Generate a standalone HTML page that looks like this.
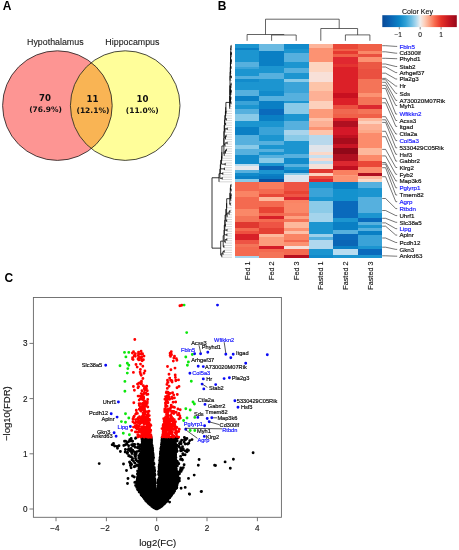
<!DOCTYPE html>
<html lang="en"><head><meta charset="utf-8"><title>Figure</title>
<style>html,body{margin:0;padding:0;background:#fff}svg{display:block}svg{font-family:'Liberation Sans', Arial, Helvetica, sans-serif}</style>
</head><body>
<svg width="459" height="550" viewBox="0 0 459 550">
<rect width="459" height="550" fill="#fff"/>
<g font-weight="700" font-size="12" fill="#000">
<text x="2.7" y="9.9">A</text><text x="217.7" y="9.9">B</text><text x="4.6" y="282">C</text>
</g>
<g id="venn">
<circle cx="57.4" cy="105.6" r="54.8" fill="#fd9593"/>
<circle cx="125.2" cy="105.6" r="54.8" fill="#fffe9a"/>
<clipPath id="cl"><circle cx="57.4" cy="105.6" r="54.8"/></clipPath>
<circle cx="125.2" cy="105.6" r="54.8" fill="#f9b454" clip-path="url(#cl)"/>
<circle cx="57.4" cy="105.6" r="54.8" fill="none" stroke="#1a1a1a" stroke-width="0.8"/>
<circle cx="125.2" cy="105.6" r="54.8" fill="none" stroke="#1a1a1a" stroke-width="0.8"/>
<g font-size="8.85" fill="#1a1a1a" stroke="#1a1a1a" stroke-width="0.1" text-anchor="middle">
<text x="55.3" y="44.8">Hypothalamus</text><text x="132.4" y="45">Hippocampus</text></g>
<g style="font-family:'DejaVu Sans', 'Liberation Sans', sans-serif" font-weight="700" fill="#111" text-anchor="middle">
<text x="44.9" y="101.3" font-size="8.6">70</text><text x="45.6" y="112.2" font-size="7.5">(76.9%)</text>
<text x="92.4" y="101.9" font-size="8.6">11</text><text x="92.9" y="113" font-size="7.5">(12.1%)</text>
<text x="142.5" y="101.9" font-size="8.6">10</text><text x="142.2" y="113" font-size="7.5">(11.0%)</text>
</g></g>
<g id="heat" shape-rendering="crispEdges">
<rect x="234.8" y="44.04" width="24.62" height="3.96" fill="#1c95d0"/>
<rect x="234.8" y="47.95" width="24.62" height="2.26" fill="#0a7fc4"/>
<rect x="234.8" y="50.16" width="24.62" height="2.43" fill="#1c95d0"/>
<rect x="234.8" y="52.54" width="24.62" height="9.91" fill="#1c95d0"/>
<rect x="234.8" y="62.39" width="24.62" height="4.30" fill="#56b0de"/>
<rect x="234.8" y="66.64" width="24.62" height="2.60" fill="#3aa3d8"/>
<rect x="234.8" y="69.19" width="24.62" height="6.85" fill="#1c95d0"/>
<rect x="234.8" y="75.98" width="24.62" height="2.60" fill="#56b0de"/>
<rect x="234.8" y="78.53" width="24.62" height="3.45" fill="#128bcb"/>
<rect x="234.8" y="81.93" width="24.62" height="8.55" fill="#1c95d0"/>
<rect x="234.8" y="90.43" width="24.62" height="6.00" fill="#56b0de"/>
<rect x="234.8" y="96.38" width="24.62" height="4.30" fill="#0a7fc4"/>
<rect x="234.8" y="100.62" width="24.62" height="4.30" fill="#3aa3d8"/>
<rect x="234.8" y="104.87" width="24.62" height="4.30" fill="#1c95d0"/>
<rect x="234.8" y="109.12" width="24.62" height="4.98" fill="#56b0de"/>
<rect x="259.4" y="44.04" width="24.62" height="6.51" fill="#6abae2"/>
<rect x="259.4" y="50.50" width="24.62" height="15.34" fill="#0a7fc4"/>
<rect x="259.4" y="65.79" width="24.62" height="6.85" fill="#1c95d0"/>
<rect x="259.4" y="72.59" width="24.62" height="6.00" fill="#56b0de"/>
<rect x="259.4" y="78.53" width="24.62" height="12.79" fill="#1c95d0"/>
<rect x="259.4" y="91.28" width="24.62" height="5.15" fill="#128bcb"/>
<rect x="259.4" y="96.38" width="24.62" height="5.15" fill="#56b0de"/>
<rect x="259.4" y="101.47" width="24.62" height="7.70" fill="#0a7fc4"/>
<rect x="259.4" y="109.12" width="24.62" height="4.98" fill="#0a6abc"/>
<rect x="283.9" y="44.04" width="24.62" height="4.81" fill="#128bcb"/>
<rect x="283.9" y="48.80" width="24.62" height="4.30" fill="#1c95d0"/>
<rect x="283.9" y="53.05" width="24.62" height="9.40" fill="#56b0de"/>
<rect x="283.9" y="62.39" width="24.62" height="6.00" fill="#1c95d0"/>
<rect x="283.9" y="68.34" width="24.62" height="4.30" fill="#56b0de"/>
<rect x="283.9" y="72.59" width="24.62" height="6.00" fill="#1c95d0"/>
<rect x="283.9" y="78.53" width="24.62" height="3.45" fill="#8acae8"/>
<rect x="283.9" y="81.93" width="24.62" height="11.10" fill="#3aa3d8"/>
<rect x="283.9" y="92.98" width="24.62" height="8.55" fill="#56b0de"/>
<rect x="283.9" y="101.47" width="24.62" height="1.75" fill="#1c95d0"/>
<rect x="283.9" y="103.17" width="24.62" height="10.93" fill="#8acae8"/>
<rect x="308.5" y="44.04" width="24.62" height="3.96" fill="#fdb49a"/>
<rect x="308.5" y="47.95" width="24.62" height="14.49" fill="#fc9272"/>
<rect x="308.5" y="62.39" width="24.62" height="9.40" fill="#fdd5c0"/>
<rect x="308.5" y="71.74" width="24.62" height="10.25" fill="#f8e0d8"/>
<rect x="308.5" y="81.93" width="24.62" height="9.40" fill="#fdc4a8"/>
<rect x="308.5" y="91.28" width="24.62" height="10.25" fill="#fdb095"/>
<rect x="308.5" y="101.47" width="24.62" height="7.70" fill="#fdd0bc"/>
<rect x="308.5" y="109.12" width="24.62" height="4.98" fill="#fc9a7a"/>
<rect x="333.1" y="44.04" width="24.62" height="4.81" fill="#ea4838"/>
<rect x="333.1" y="48.80" width="24.62" height="2.60" fill="#f06048"/>
<rect x="333.1" y="51.35" width="24.62" height="2.60" fill="#e63a30"/>
<rect x="333.1" y="53.89" width="24.62" height="3.45" fill="#f06048"/>
<rect x="333.1" y="57.29" width="24.62" height="6.85" fill="#e02830"/>
<rect x="333.1" y="64.09" width="24.62" height="2.60" fill="#e43430"/>
<rect x="333.1" y="66.64" width="24.62" height="26.39" fill="#dc2028"/>
<rect x="333.1" y="92.98" width="24.62" height="5.15" fill="#c81020"/>
<rect x="333.1" y="98.07" width="24.62" height="6.85" fill="#dc2028"/>
<rect x="333.1" y="104.87" width="24.62" height="4.30" fill="#ec5040"/>
<rect x="333.1" y="109.12" width="24.62" height="4.98" fill="#f06850"/>
<rect x="357.6" y="44.04" width="24.62" height="6.51" fill="#f06048"/>
<rect x="357.6" y="50.50" width="24.62" height="3.45" fill="#fa8868"/>
<rect x="357.6" y="53.89" width="24.62" height="3.45" fill="#ea5040"/>
<rect x="357.6" y="57.29" width="24.62" height="5.15" fill="#fc9272"/>
<rect x="357.6" y="62.39" width="24.62" height="6.85" fill="#ec5844"/>
<rect x="357.6" y="69.19" width="24.62" height="9.40" fill="#ea5040"/>
<rect x="357.6" y="78.53" width="24.62" height="14.49" fill="#f47458"/>
<rect x="357.6" y="92.98" width="24.62" height="4.30" fill="#fc9272"/>
<rect x="357.6" y="97.23" width="24.62" height="7.70" fill="#f47458"/>
<rect x="357.6" y="104.87" width="24.62" height="4.30" fill="#dc2830"/>
<rect x="357.6" y="109.12" width="24.62" height="4.98" fill="#f47458"/>
<rect x="234.8" y="113.91" width="24.62" height="7.19" fill="#8acae8"/>
<rect x="234.8" y="121.05" width="24.62" height="6.00" fill="#1c95d0"/>
<rect x="234.8" y="126.99" width="24.62" height="8.55" fill="#0a7fc4"/>
<rect x="234.8" y="135.49" width="24.62" height="9.40" fill="#56b0de"/>
<rect x="234.8" y="144.83" width="24.62" height="4.30" fill="#8acae8"/>
<rect x="234.8" y="149.08" width="24.62" height="6.00" fill="#56b0de"/>
<rect x="234.8" y="155.03" width="24.62" height="8.55" fill="#128bcb"/>
<rect x="234.8" y="163.53" width="24.62" height="2.60" fill="#b8dcef"/>
<rect x="234.8" y="166.07" width="24.62" height="3.79" fill="#e8e8ec"/>
<rect x="234.8" y="169.81" width="24.62" height="3.45" fill="#56b0de"/>
<rect x="234.8" y="173.21" width="24.62" height="5.66" fill="#128bcb"/>
<rect x="234.8" y="178.82" width="24.62" height="3.28" fill="#56b0de"/>
<rect x="259.4" y="113.91" width="24.62" height="1.24" fill="#0a6abc"/>
<rect x="259.4" y="115.10" width="24.62" height="6.00" fill="#0a7fc4"/>
<rect x="259.4" y="121.05" width="24.62" height="6.00" fill="#1c95d0"/>
<rect x="259.4" y="126.99" width="24.62" height="8.55" fill="#3aa3d8"/>
<rect x="259.4" y="135.49" width="24.62" height="6.00" fill="#1c95d0"/>
<rect x="259.4" y="141.44" width="24.62" height="3.45" fill="#56b0de"/>
<rect x="259.4" y="144.83" width="24.62" height="4.30" fill="#1c95d0"/>
<rect x="259.4" y="149.08" width="24.62" height="2.60" fill="#56b0de"/>
<rect x="259.4" y="151.63" width="24.62" height="3.45" fill="#1c95d0"/>
<rect x="259.4" y="155.03" width="24.62" height="2.60" fill="#56b0de"/>
<rect x="259.4" y="157.58" width="24.62" height="5.15" fill="#8acae8"/>
<rect x="259.4" y="162.68" width="24.62" height="3.45" fill="#1c95d0"/>
<rect x="259.4" y="166.07" width="24.62" height="3.79" fill="#0a62b4"/>
<rect x="259.4" y="169.81" width="24.62" height="3.96" fill="#1c95d0"/>
<rect x="259.4" y="173.72" width="24.62" height="5.15" fill="#0a7fc4"/>
<rect x="259.4" y="178.82" width="24.62" height="3.28" fill="#0a4fa0"/>
<rect x="283.9" y="113.91" width="24.62" height="0.39" fill="#8acae8"/>
<rect x="283.9" y="114.25" width="24.62" height="6.85" fill="#1c95d0"/>
<rect x="283.9" y="121.05" width="24.62" height="6.00" fill="#56b0de"/>
<rect x="283.9" y="126.99" width="24.62" height="2.60" fill="#56b0de"/>
<rect x="283.9" y="129.54" width="24.62" height="6.00" fill="#a8d4ec"/>
<rect x="283.9" y="135.49" width="24.62" height="6.00" fill="#8acae8"/>
<rect x="283.9" y="141.44" width="24.62" height="12.79" fill="#1c95d0"/>
<rect x="283.9" y="154.18" width="24.62" height="3.45" fill="#56b0de"/>
<rect x="283.9" y="157.58" width="24.62" height="6.00" fill="#128bcb"/>
<rect x="283.9" y="163.53" width="24.62" height="3.45" fill="#56b0de"/>
<rect x="283.9" y="166.92" width="24.62" height="2.94" fill="#1c95d0"/>
<rect x="283.9" y="169.81" width="24.62" height="3.45" fill="#0a7fc4"/>
<rect x="283.9" y="173.21" width="24.62" height="2.26" fill="#8acae8"/>
<rect x="283.9" y="175.42" width="24.62" height="6.68" fill="#e0e8f0"/>
<rect x="308.5" y="113.91" width="24.62" height="3.79" fill="#fc9a7a"/>
<rect x="308.5" y="117.65" width="24.62" height="3.45" fill="#fdc0a8"/>
<rect x="308.5" y="121.05" width="24.62" height="6.00" fill="#fdb095"/>
<rect x="308.5" y="126.99" width="24.62" height="2.60" fill="#fc9272"/>
<rect x="308.5" y="129.54" width="24.62" height="6.00" fill="#fdc4ac"/>
<rect x="308.5" y="135.49" width="24.62" height="9.40" fill="#b8d8ec"/>
<rect x="308.5" y="144.83" width="24.62" height="6.85" fill="#e0e4ea"/>
<rect x="308.5" y="151.63" width="24.62" height="3.45" fill="#fbd8c8"/>
<rect x="308.5" y="155.03" width="24.62" height="2.60" fill="#c8e0f0"/>
<rect x="308.5" y="157.58" width="24.62" height="3.45" fill="#fad8cc"/>
<rect x="308.5" y="160.98" width="24.62" height="2.60" fill="#c0dcf0"/>
<rect x="308.5" y="163.53" width="24.62" height="6.00" fill="#f4e0d8"/>
<rect x="308.5" y="169.47" width="24.62" height="3.45" fill="#e03830"/>
<rect x="308.5" y="172.87" width="24.62" height="3.11" fill="#fdd0bc"/>
<rect x="308.5" y="175.93" width="24.62" height="2.94" fill="#f06048"/>
<rect x="308.5" y="178.82" width="24.62" height="3.28" fill="#e02830"/>
<rect x="333.1" y="113.91" width="24.62" height="3.79" fill="#f06048"/>
<rect x="333.1" y="117.65" width="24.62" height="3.45" fill="#dc2028"/>
<rect x="333.1" y="121.05" width="24.62" height="6.00" fill="#b01020"/>
<rect x="333.1" y="126.99" width="24.62" height="8.55" fill="#d41828"/>
<rect x="333.1" y="135.49" width="24.62" height="2.60" fill="#c01020"/>
<rect x="333.1" y="138.04" width="24.62" height="6.00" fill="#a80c1c"/>
<rect x="333.1" y="143.98" width="24.62" height="4.30" fill="#c81424"/>
<rect x="333.1" y="148.23" width="24.62" height="6.00" fill="#900818"/>
<rect x="333.1" y="154.18" width="24.62" height="6.85" fill="#b01020"/>
<rect x="333.1" y="160.98" width="24.62" height="5.15" fill="#dc2830"/>
<rect x="333.1" y="166.07" width="24.62" height="3.79" fill="#c01020"/>
<rect x="333.1" y="169.81" width="24.62" height="5.66" fill="#fa8060"/>
<rect x="333.1" y="175.42" width="24.62" height="6.68" fill="#fc9a7a"/>
<rect x="357.6" y="113.91" width="24.62" height="3.79" fill="#f06048"/>
<rect x="357.6" y="117.65" width="24.62" height="3.45" fill="#fdb89c"/>
<rect x="357.6" y="121.05" width="24.62" height="2.60" fill="#fdd0bc"/>
<rect x="357.6" y="123.59" width="24.62" height="6.00" fill="#fdb095"/>
<rect x="357.6" y="129.54" width="24.62" height="3.45" fill="#fda888"/>
<rect x="357.6" y="132.94" width="24.62" height="15.34" fill="#fc8c6c"/>
<rect x="357.6" y="148.23" width="24.62" height="6.85" fill="#fdb89c"/>
<rect x="357.6" y="155.03" width="24.62" height="6.00" fill="#fc8a6a"/>
<rect x="357.6" y="160.98" width="24.62" height="6.00" fill="#ea4838"/>
<rect x="357.6" y="166.92" width="24.62" height="5.66" fill="#fc8c6c"/>
<rect x="357.6" y="172.53" width="24.62" height="3.79" fill="#b01020"/>
<rect x="357.6" y="176.27" width="24.62" height="2.60" fill="#fc9a7a"/>
<rect x="357.6" y="178.82" width="24.62" height="3.28" fill="#fdd8c4"/>
<rect x="234.8" y="176.00" width="24.62" height="3.11" fill="#0a7fc4"/>
<rect x="234.8" y="179.06" width="24.62" height="3.45" fill="#8acae8"/>
<rect x="234.8" y="182.46" width="24.62" height="8.89" fill="#f46a50"/>
<rect x="234.8" y="191.29" width="24.62" height="6.00" fill="#fa8464"/>
<rect x="234.8" y="197.24" width="24.62" height="11.94" fill="#f46a50"/>
<rect x="234.8" y="209.14" width="24.62" height="6.85" fill="#fa8868"/>
<rect x="234.8" y="215.93" width="24.62" height="6.00" fill="#f47458"/>
<rect x="234.8" y="221.88" width="24.62" height="6.00" fill="#e03830"/>
<rect x="234.8" y="227.83" width="24.62" height="3.45" fill="#f46a50"/>
<rect x="234.8" y="231.23" width="24.62" height="2.60" fill="#ee5040"/>
<rect x="234.8" y="233.77" width="24.62" height="6.51" fill="#d82028"/>
<rect x="234.8" y="240.23" width="24.62" height="3.79" fill="#ee5444"/>
<rect x="234.8" y="243.97" width="24.62" height="3.45" fill="#f47458"/>
<rect x="234.8" y="247.37" width="24.62" height="8.21" fill="#f46a50"/>
<rect x="234.8" y="255.52" width="24.62" height="2.94" fill="#a8d4ec"/>
<rect x="259.4" y="176.00" width="24.62" height="3.11" fill="#0a78c0"/>
<rect x="259.4" y="179.06" width="24.62" height="3.45" fill="#0a4fa0"/>
<rect x="259.4" y="182.46" width="24.62" height="6.34" fill="#fa7c5e"/>
<rect x="259.4" y="188.74" width="24.62" height="5.15" fill="#f46a50"/>
<rect x="259.4" y="193.84" width="24.62" height="3.45" fill="#e84838"/>
<rect x="259.4" y="197.24" width="24.62" height="3.45" fill="#fdb89c"/>
<rect x="259.4" y="200.64" width="24.62" height="6.00" fill="#f46a50"/>
<rect x="259.4" y="206.59" width="24.62" height="6.00" fill="#e84434"/>
<rect x="259.4" y="212.53" width="24.62" height="3.45" fill="#f46a50"/>
<rect x="259.4" y="215.93" width="24.62" height="2.94" fill="#d82028"/>
<rect x="259.4" y="218.82" width="24.62" height="3.11" fill="#f46a50"/>
<rect x="259.4" y="221.88" width="24.62" height="6.00" fill="#ee5444"/>
<rect x="259.4" y="227.83" width="24.62" height="6.00" fill="#e44034"/>
<rect x="259.4" y="233.77" width="24.62" height="3.45" fill="#fdb89c"/>
<rect x="259.4" y="237.17" width="24.62" height="8.55" fill="#fc9c7c"/>
<rect x="259.4" y="245.67" width="24.62" height="3.45" fill="#d41c28"/>
<rect x="259.4" y="249.07" width="24.62" height="3.45" fill="#f46a50"/>
<rect x="259.4" y="252.47" width="24.62" height="6.00" fill="#f47458"/>
<rect x="283.9" y="176.00" width="24.62" height="6.51" fill="#dce4ee"/>
<rect x="283.9" y="182.46" width="24.62" height="8.89" fill="#ee5444"/>
<rect x="283.9" y="191.29" width="24.62" height="2.60" fill="#e84434"/>
<rect x="283.9" y="193.84" width="24.62" height="3.45" fill="#ee5444"/>
<rect x="283.9" y="197.24" width="24.62" height="2.60" fill="#dc2830"/>
<rect x="283.9" y="199.79" width="24.62" height="3.45" fill="#fa8464"/>
<rect x="283.9" y="203.19" width="24.62" height="9.40" fill="#fa8868"/>
<rect x="283.9" y="212.53" width="24.62" height="3.45" fill="#f47458"/>
<rect x="283.9" y="215.93" width="24.62" height="3.45" fill="#fda080"/>
<rect x="283.9" y="219.33" width="24.62" height="2.60" fill="#f47458"/>
<rect x="283.9" y="221.88" width="24.62" height="6.00" fill="#fdb89c"/>
<rect x="283.9" y="227.83" width="24.62" height="3.45" fill="#fc9272"/>
<rect x="283.9" y="231.23" width="24.62" height="2.60" fill="#fdc0a8"/>
<rect x="283.9" y="233.77" width="24.62" height="6.00" fill="#fa8464"/>
<rect x="283.9" y="239.72" width="24.62" height="2.60" fill="#f46a50"/>
<rect x="283.9" y="242.27" width="24.62" height="3.45" fill="#fc9272"/>
<rect x="283.9" y="245.67" width="24.62" height="3.45" fill="#f8e0d8"/>
<rect x="283.9" y="249.07" width="24.62" height="6.00" fill="#f46a50"/>
<rect x="283.9" y="255.01" width="24.62" height="3.45" fill="#b81020"/>
<rect x="308.5" y="176.00" width="24.62" height="3.11" fill="#ec4c3c"/>
<rect x="308.5" y="179.06" width="24.62" height="3.45" fill="#dc2830"/>
<rect x="308.5" y="182.46" width="24.62" height="5.49" fill="#1c95d0"/>
<rect x="308.5" y="187.89" width="24.62" height="9.40" fill="#3aa3d8"/>
<rect x="308.5" y="197.24" width="24.62" height="3.45" fill="#1c95d0"/>
<rect x="308.5" y="200.64" width="24.62" height="11.94" fill="#8ccbe8"/>
<rect x="308.5" y="212.53" width="24.62" height="9.40" fill="#a4d4ec"/>
<rect x="308.5" y="221.88" width="24.62" height="11.94" fill="#1c95d0"/>
<rect x="308.5" y="233.77" width="24.62" height="3.45" fill="#9cd0ea"/>
<rect x="308.5" y="237.17" width="24.62" height="2.60" fill="#56b0de"/>
<rect x="308.5" y="239.72" width="24.62" height="9.40" fill="#b0d8ee"/>
<rect x="308.5" y="249.07" width="24.62" height="6.00" fill="#1c95d0"/>
<rect x="308.5" y="255.01" width="24.62" height="3.45" fill="#128bcb"/>
<rect x="333.1" y="176.00" width="24.62" height="6.51" fill="#fc9272"/>
<rect x="333.1" y="182.46" width="24.62" height="6.34" fill="#0a7fc4"/>
<rect x="333.1" y="188.74" width="24.62" height="11.94" fill="#1492ce"/>
<rect x="333.1" y="200.64" width="24.62" height="17.89" fill="#0a6abc"/>
<rect x="333.1" y="218.48" width="24.62" height="3.45" fill="#1c95d0"/>
<rect x="333.1" y="221.88" width="24.62" height="8.55" fill="#0a7fc4"/>
<rect x="333.1" y="230.38" width="24.62" height="3.45" fill="#56b0de"/>
<rect x="333.1" y="233.77" width="24.62" height="6.00" fill="#0a6abc"/>
<rect x="333.1" y="239.72" width="24.62" height="6.00" fill="#0a66b6"/>
<rect x="333.1" y="245.67" width="24.62" height="3.45" fill="#0a7fc4"/>
<rect x="333.1" y="249.07" width="24.62" height="6.00" fill="#b8dcf0"/>
<rect x="333.1" y="255.01" width="24.62" height="3.45" fill="#1c95d0"/>
<rect x="357.6" y="176.00" width="24.62" height="3.11" fill="#fdb89c"/>
<rect x="357.6" y="179.06" width="24.62" height="3.45" fill="#fdd8c4"/>
<rect x="357.6" y="182.46" width="24.62" height="5.49" fill="#56b0de"/>
<rect x="357.6" y="187.89" width="24.62" height="9.40" fill="#1c95d0"/>
<rect x="357.6" y="197.24" width="24.62" height="12.79" fill="#56b0de"/>
<rect x="357.6" y="209.98" width="24.62" height="2.60" fill="#56b0de"/>
<rect x="357.6" y="212.53" width="24.62" height="6.00" fill="#1c95d0"/>
<rect x="357.6" y="218.48" width="24.62" height="3.45" fill="#0a6abc"/>
<rect x="357.6" y="221.88" width="24.62" height="3.45" fill="#56b0de"/>
<rect x="357.6" y="225.28" width="24.62" height="2.60" fill="#1c95d0"/>
<rect x="357.6" y="227.83" width="24.62" height="3.45" fill="#56b0de"/>
<rect x="357.6" y="231.23" width="24.62" height="4.30" fill="#0a7fc4"/>
<rect x="357.6" y="235.47" width="24.62" height="10.25" fill="#3aa3d8"/>
<rect x="357.6" y="245.67" width="24.62" height="3.45" fill="#1c95d0"/>
<rect x="357.6" y="249.07" width="24.62" height="6.00" fill="#0a6abc"/>
<rect x="357.6" y="255.01" width="24.62" height="3.45" fill="#1c95d0"/>
</g>
<path d="M271.6 40.8 L271.6 35 L296.2 35 L296.2 40.8M247.1 40.8 L247.1 34.5 L283.9 34.5 L283.9 35M345.4 40.8 L345.4 34.9 L369.9 34.9 L369.9 40.8M320.8 40.8 L320.8 28.5 L357.6 28.5 L357.6 34.9M265.5 34.5 L265.5 19.2 L339.2 19.2 L339.2 28.5" fill="none" stroke="#222" stroke-width="0.7"/>
<path d="M232 45.18L231.1 45.18M232 47.53L231.1 47.53M232 49.89L230.9 49.89M232 52.25L231.4 52.25M232 54.60L231.4 54.60M232 56.96L231 56.96M232 59.31L231.4 59.31M232 61.67L231.4 61.67M232 64.03L231.2 64.03M232 66.38L231.1 66.38M232 68.74L231.1 68.74M232 71.09L230.6 71.09M232 73.45L230.6 73.45M232 75.81L231.4 75.81M232 78.16L231.4 78.16M232 80.52L230.1 80.52M232 82.87L231.1 82.87M232 85.23L231.1 85.23M232 87.59L230.9 87.59M232 89.94L231.2 89.94M232 92.30L231.2 92.30M232 94.65L230.9 94.65M232 97.01L230.9 97.01M232 99.37L230.9 99.37M232 101.72L231 101.72M232 104.08L231 104.08M232 106.44L229.8 106.44M232 108.79L229.7 108.79M232 111.15L226 111.15M232 113.50L226 113.50M232 115.86L225.7 115.86M232 118.22L226.3 118.22M232 120.57L226.3 120.57M232 122.93L225.6 122.93M232 125.28L225.6 125.28M232 127.64L227.2 127.64M232 130.00L227.2 130.00M232 132.35L224.9 132.35M232 134.71L226.1 134.71M232 137.06L226.1 137.06M232 139.42L225.5 139.42M232 141.78L227.1 141.78M232 144.13L227.1 144.13M232 146.49L225 146.49M232 148.84L226.4 148.84M232 151.20L226.4 151.20M232 153.56L225.5 153.56M232 155.91L224.2 155.91M232 158.27L221.9 158.27M232 160.62L221.8 160.62M232 162.98L225.2 162.98M232 165.34L225.2 165.34M232 167.69L224.4 167.69M232 170.05L224.4 170.05M232 172.40L222.8 172.40M232 174.76L222.8 174.76M232 177.12L222.2 177.12M232 179.47L222.2 179.47M232 181.83L219 181.83M232 184.18L231 184.18M232 186.54L231 186.54M232 188.90L231.1 188.90M232 191.25L231.1 191.25M232 193.61L231.1 193.61M232 195.96L231.1 195.96M232 198.32L230.9 198.32M232 200.68L230.7 200.68M232 203.03L230.2 203.03M232 205.39L230.2 205.39M232 207.75L226.7 207.75M232 210.10L229.9 210.10M232 212.46L229.9 212.46M232 214.81L229.1 214.81M232 217.17L227.1 217.17M232 219.53L226.7 219.53M232 221.88L226.7 221.88M232 224.24L225.4 224.24M232 226.59L225.4 226.59M232 228.95L227 228.95M232 231.31L227 231.31M232 233.66L226.9 233.66M232 236.02L226.9 236.02M232 238.37L226.8 238.37M232 240.73L226.8 240.73M232 243.09L225.2 243.09M232 245.44L223.9 245.44M232 247.80L223.9 247.80M232 250.15L224.2 250.15M232 252.51L224.2 252.51M232 254.87L223 254.87M232 257.22L221.8 257.22" fill="none" stroke="#888" stroke-width="0.35"/>
<path d="M231.1 45.18L231.1 47.53M231.1 46.36L230.9 46.36M230.9 46.36L230.9 49.89M231.4 52.25L231.4 54.60M231.4 53.42L231 53.42M231 53.42L231 56.96M230.9 48.12L230.8 48.12M231 55.19L230.8 55.19M230.8 48.12L230.8 55.19M231.4 59.31L231.4 61.67M231.4 60.49L231.2 60.49M231.2 60.49L231.2 64.03M230.8 51.66L230.7 51.66M231.2 62.26L230.7 62.26M230.7 51.66L230.7 62.26M231.1 66.38L231.1 68.74M230.7 56.96L230.5 56.96M231.1 67.56L230.5 67.56M230.5 56.96L230.5 67.56M230.6 71.09L230.6 73.45M230.5 62.26L230.4 62.26M230.6 72.27L230.4 72.27M230.4 62.26L230.4 72.27M231.4 75.81L231.4 78.16M230.4 67.27L230.3 67.27M231.4 76.98L230.3 76.98M230.3 67.27L230.3 76.98M230.3 72.13L230.1 72.13M230.1 72.13L230.1 80.52M231.1 82.87L231.1 85.23M231.1 84.05L230.9 84.05M230.9 84.05L230.9 87.59M231.2 89.94L231.2 92.30M231.2 91.12L230.9 91.12M230.9 91.12L230.9 94.65M230.9 85.82L230.6 85.82M230.9 92.89L230.6 92.89M230.6 85.82L230.6 92.89M230.9 97.01L230.9 99.37M231 101.72L231 104.08M230.9 98.19L230.5 98.19M231 102.90L230.5 102.90M230.5 98.19L230.5 102.90M230.6 89.35L230.3 89.35M230.5 100.55L230.3 100.55M230.3 89.35L230.3 100.55M230.1 76.32L230 76.32M230.3 94.95L230 94.95M230 76.32L230 94.95M230 85.64L229.8 85.64M229.8 85.64L229.8 106.44M229.8 96.04L229.7 96.04M229.7 96.04L229.7 108.79M226 111.15L226 113.50M229.7 102.41L225.9 102.41M226 112.33L225.9 112.33M225.9 102.41L225.9 112.33M225.9 107.37L225.7 107.37M225.7 107.37L225.7 115.86M226.3 118.22L226.3 120.57M225.7 111.61L225.4 111.61M226.3 119.39L225.4 119.39M225.4 111.61L225.4 119.39M225.6 122.93L225.6 125.28M225.4 115.50L224.8 115.50M225.6 124.11L224.8 124.11M224.8 115.50L224.8 124.11M227.2 127.64L227.2 130.00M227.2 128.82L224.9 128.82M224.9 128.82L224.9 132.35M224.8 119.80L224.6 119.80M224.9 130.58L224.6 130.58M224.6 119.80L224.6 130.58M226.1 134.71L226.1 137.06M226.1 135.89L225.5 135.89M225.5 135.89L225.5 139.42M224.6 125.19L224.2 125.19M225.5 137.65L224.2 137.65M224.2 125.19L224.2 137.65M227.1 141.78L227.1 144.13M227.1 142.95L225 142.95M225 142.95L225 146.49M224.2 131.42L223.9 131.42M225 144.72L223.9 144.72M223.9 131.42L223.9 144.72M226.4 148.84L226.4 151.20M226.4 150.02L225.5 150.02M225.5 150.02L225.5 153.56M225.5 151.79L224.2 151.79M224.2 151.79L224.2 155.91M223.9 138.07L223.9 138.07M224.2 153.85L223.9 153.85M223.9 138.07L223.9 153.85M223.9 145.96L221.9 145.96M221.9 145.96L221.9 158.27M221.9 152.11L221.8 152.11M221.8 152.11L221.8 160.62M225.2 162.98L225.2 165.34M221.8 156.37L221.5 156.37M225.2 164.16L221.5 164.16M221.5 156.37L221.5 164.16M224.4 167.69L224.4 170.05M221.5 160.26L220.6 160.26M224.4 168.87L220.6 168.87M220.6 160.26L220.6 168.87M222.8 172.40L222.8 174.76M220.6 164.57L220.3 164.57M222.8 173.58L220.3 173.58M220.3 164.57L220.3 173.58M222.2 177.12L222.2 179.47M220.3 169.07L219.9 169.07M222.2 178.29L219.9 178.29M219.9 169.07L219.9 178.29M219.9 173.68L219 173.68M219 173.68L219 181.83M231 184.18L231 186.54M231.1 188.90L231.1 191.25M231 185.36L230.6 185.36M231.1 190.07L230.6 190.07M230.6 185.36L230.6 190.07M231.1 193.61L231.1 195.96M231.1 194.79L230.9 194.79M230.9 194.79L230.9 198.32M230.9 196.55L230.7 196.55M230.7 196.55L230.7 200.68M230.6 187.72L230.3 187.72M230.7 198.62L230.3 198.62M230.3 187.72L230.3 198.62M230.2 203.03L230.2 205.39M230.3 193.17L229.8 193.17M230.2 204.21L229.8 204.21M229.8 193.17L229.8 204.21M229.8 198.69L226.7 198.69M226.7 198.69L226.7 207.75M229.9 210.10L229.9 212.46M229.9 211.28L229.1 211.28M229.1 211.28L229.1 214.81M229.1 213.05L227.1 213.05M227.1 213.05L227.1 217.17M226.7 203.22L226.6 203.22M227.1 215.11L226.6 215.11M226.6 203.22L226.6 215.11M226.7 219.53L226.7 221.88M226.6 209.16L225.8 209.16M226.7 220.70L225.8 220.70M225.8 209.16L225.8 220.70M225.4 224.24L225.4 226.59M225.8 214.93L225.1 214.93M225.4 225.42L225.1 225.42M225.1 214.93L225.1 225.42M227 228.95L227 231.31M225.1 220.17L224.8 220.17M227 230.13L224.8 230.13M224.8 220.17L224.8 230.13M226.9 233.66L226.9 236.02M224.8 225.15L224.3 225.15M226.9 234.84L224.3 234.84M224.3 225.15L224.3 234.84M226.8 238.37L226.8 240.73M226.8 239.55L225.2 239.55M225.2 239.55L225.2 243.09M224.3 230.00L224.1 230.00M225.2 241.32L224.1 241.32M224.1 230.00L224.1 241.32M223.9 245.44L223.9 247.80M224.1 235.66L223.2 235.66M223.9 246.62L223.2 246.62M223.2 235.66L223.2 246.62M224.2 250.15L224.2 252.51M224.2 251.33L223 251.33M223 251.33L223 254.87M223 253.10L221.8 253.10M221.8 253.10L221.8 257.22M223.2 241.14L220.7 241.14M221.8 255.16L220.7 255.16M220.7 241.14L220.7 255.16M219 177.76L212 177.76M220.7 248.15L212 248.15M212 177.76L212 248.15" fill="none" stroke="#000" stroke-width="0.8"/>
<path d="M382.2 45.7 L385.6 45.7 L395.8 46.4 L397.2 46.4M382.2 51.8 L385.6 51.8 L395.8 53.2 L397.2 53.2M382.2 58.3 L385.6 58.3 L395.8 58.7 L397.2 58.7M382.2 64 L385.6 64 L395.8 66.5 L397.2 66.5M382.2 67 L385.6 67 L395.8 72.6 L397.2 72.6M382.2 73.2 L385.6 73.2 L395.8 79 L397.2 79M382.2 78.4 L385.6 78.4 L395.8 86.1 L397.2 86.1M382.2 79.7 L385.6 79.7 L395.8 93.4 L397.2 93.4M382.2 82.3 L385.6 82.3 L395.8 100.4 L397.2 100.4M382.2 85.4 L385.6 85.4 L395.8 105.5 L397.2 105.5M382.2 88.4 L385.6 88.4 L395.8 114.1 L397.2 114.1M382.2 98.4 L385.6 98.4 L395.8 120.5 L397.2 120.5M382.2 102.8 L385.6 102.8 L395.8 126.4 L397.2 126.4M382.2 116.7 L385.6 116.7 L395.8 134 L397.2 134M382.2 119.8 L385.6 119.8 L395.8 140.6 L397.2 140.6M382.2 122.4 L385.6 122.4 L395.8 147.8 L397.2 147.8M382.2 131.3 L385.6 131.3 L395.8 154.3 L397.2 154.3M382.2 136.7 L385.6 136.7 L395.8 161.1 L397.2 161.1M382.2 149.4 L385.6 149.4 L395.8 167.5 L397.2 167.5M382.2 155.9 L385.6 155.9 L395.8 174.3 L397.2 174.3M382.2 162.5 L385.6 162.5 L395.8 180.9 L397.2 180.9M382.2 164.2 L385.6 164.2 L395.8 187.8 L397.2 187.8M382.2 167.7 L385.6 167.7 L395.8 195 L397.2 195M382.2 176.7 L385.6 176.7 L395.8 201.7 L397.2 201.7M382.2 198.5 L385.6 198.5 L395.8 208.6 L397.2 208.6M382.2 210.5 L385.6 210.5 L395.8 215.6 L397.2 215.6M382.2 218.3 L385.6 218.3 L395.8 222.3 L397.2 222.3M382.2 222.9 L385.6 222.9 L395.8 228.7 L397.2 228.7M382.2 226.2 L385.6 226.2 L395.8 235.1 L397.2 235.1M382.2 238 L385.6 238 L395.8 242.5 L397.2 242.5M382.2 247.2 L385.6 247.2 L395.8 249.4 L397.2 249.4M382.2 255.8 L385.6 255.8 L395.8 256.2 L397.2 256.2" fill="none" stroke="#1a1a1a" stroke-width="0.6"/>
<g font-size="6.2" stroke-width="0.18">
<text x="399.4" y="48.6" fill="#1a1aff" stroke="#1a1aff">Fbln5</text>
<text x="399.4" y="55.4" fill="#111" stroke="#111">Cd300lf</text>
<text x="399.4" y="60.9" fill="#111" stroke="#111">Phyhd1</text>
<text x="399.4" y="68.7" fill="#111" stroke="#111">Stab2</text>
<text x="399.4" y="74.8" fill="#111" stroke="#111">Arhgef37</text>
<text x="399.4" y="81.2" fill="#111" stroke="#111">Pla2g3</text>
<text x="399.4" y="88.3" fill="#111" stroke="#111">Hr</text>
<text x="399.4" y="95.6" fill="#111" stroke="#111">Sds</text>
<text x="399.4" y="102.6" fill="#111" stroke="#111">A730020M07Rik</text>
<text x="399.4" y="107.7" fill="#111" stroke="#111">Myh1</text>
<text x="399.4" y="116.3" fill="#1a1aff" stroke="#1a1aff">Wfikkn2</text>
<text x="399.4" y="122.7" fill="#111" stroke="#111">Acss3</text>
<text x="399.4" y="128.6" fill="#111" stroke="#111">Itgad</text>
<text x="399.4" y="136.2" fill="#111" stroke="#111">Ctla2a</text>
<text x="399.4" y="142.8" fill="#1a1aff" stroke="#1a1aff">Col5a3</text>
<text x="399.4" y="150" fill="#111" stroke="#111">5330429C05Rik</text>
<text x="399.4" y="156.5" fill="#111" stroke="#111">Hsf3</text>
<text x="399.4" y="163.3" fill="#111" stroke="#111">Gabbr2</text>
<text x="399.4" y="169.7" fill="#111" stroke="#111">Klrg2</text>
<text x="399.4" y="176.5" fill="#111" stroke="#111">Fyb2</text>
<text x="399.4" y="183.1" fill="#111" stroke="#111">Map3k6</text>
<text x="399.4" y="190" fill="#1a1aff" stroke="#1a1aff">Pglyrp1</text>
<text x="399.4" y="197.2" fill="#111" stroke="#111">Tmem82</text>
<text x="399.4" y="203.9" fill="#1a1aff" stroke="#1a1aff">Agrp</text>
<text x="399.4" y="210.8" fill="#1a1aff" stroke="#1a1aff">Rtbdn</text>
<text x="399.4" y="217.8" fill="#111" stroke="#111">Uhrf1</text>
<text x="399.4" y="224.5" fill="#111" stroke="#111">Slc38a5</text>
<text x="399.4" y="230.9" fill="#1a1aff" stroke="#1a1aff">Lipg</text>
<text x="399.4" y="237.3" fill="#111" stroke="#111">Aplnr</text>
<text x="399.4" y="244.7" fill="#111" stroke="#111">Pcdh12</text>
<text x="399.4" y="251.6" fill="#111" stroke="#111">Gkn3</text>
<text x="399.4" y="258.4" fill="#111" stroke="#111">Ankrd63</text>
</g>
<g font-size="7.3" fill="#111" stroke="#111" stroke-width="0.12" text-anchor="end">
<text transform="translate(249.7 261.4) rotate(-90)">Fed 1</text>
<text transform="translate(274.2 261.4) rotate(-90)">Fed 2</text>
<text transform="translate(298.8 261.4) rotate(-90)">Fed 3</text>
<text transform="translate(323.4 261.4) rotate(-90)">Fasted 1</text>
<text transform="translate(348 261.4) rotate(-90)">Fasted 2</text>
<text transform="translate(372.5 261.4) rotate(-90)">Fasted 3</text>
</g>
<defs><linearGradient id="ck" x1="0" x2="1" y1="0" y2="0">
<stop offset="0.004" stop-color="#084a98"/>
<stop offset="0.116" stop-color="#0a64b4"/>
<stop offset="0.228" stop-color="#0a84c6"/>
<stop offset="0.312" stop-color="#2ea0d6"/>
<stop offset="0.397" stop-color="#72c0e4"/>
<stop offset="0.453" stop-color="#acd8ee"/>
<stop offset="0.509" stop-color="#f0efee"/>
<stop offset="0.565" stop-color="#fdd0bc"/>
<stop offset="0.621" stop-color="#fcaa8c"/>
<stop offset="0.705" stop-color="#f8694c"/>
<stop offset="0.789" stop-color="#e63228"/>
<stop offset="0.901" stop-color="#c01420"/>
<stop offset="1.000" stop-color="#96081a"/>
</linearGradient></defs>
<rect x="382.3" y="15.2" width="74.5" height="11.9" fill="url(#ck)"/>
<path d="M399.3 27.1v2.3M420.2 27.1v2.3M441.1 27.1v2.3" stroke="#333" stroke-width="0.6"/>
<g fill="#111" stroke="#111" stroke-width="0.12" text-anchor="middle"><text x="417.5" y="13.6" font-size="7.1">Color Key</text>
<g font-size="6.6"><text x="398.2" y="37.2">−1</text><text x="420.2" y="37.2">0</text><text x="441" y="37.2">1</text></g></g>
<g id="volcano">
<rect x="33.4" y="297.5" width="248" height="219.8" fill="none" stroke="#666" stroke-width="0.9"/>
<path d="M56 517.3v3.9M106.4 517.3v3.9M156.7 517.3v3.9M207 517.3v3.9M257.4 517.3v3.9M33.4 509h-3.9M33.4 453.8h-3.9M33.4 398.6h-3.9M33.4 343.4h-3.9" stroke="#666" stroke-width="0.9" fill="none"/>
<g font-size="8.2" fill="#111" stroke="#111" stroke-width="0.12" text-anchor="middle">
<text x="54.8" y="531.3">−4</text>
<text x="105.2" y="531.3">−2</text>
<text x="156.7" y="531.3">0</text>
<text x="207" y="531.3">2</text>
<text x="257.4" y="531.3">4</text>
<text x="25.3" y="511.9">0</text>
<text x="25.3" y="456.7">1</text>
<text x="25.3" y="401.5">2</text>
<text x="25.3" y="346.3">3</text>
</g>
<g font-size="9.5" fill="#111" stroke="#111" stroke-width="0.12" text-anchor="middle"><text x="157.7" y="545.7">log2(FC)</text>
<text transform="translate(10.2 413.6) rotate(-90)">−log10(FDR)</text></g>
<path d="M150 470h0M139.9 472.9h0M157.2 501h0M166.7 478h0M170.8 462.8h0M168.8 467.1h0M161.8 491.2h0M162.2 459.6h0M149.7 470.4h0M171.8 493.9h0M143.7 439h0M162.1 448.5h0M148.8 462.5h0M164.3 493.7h0M165.8 490.5h0M149.4 447.4h0M161.5 489.8h0M155.4 495.4h0M171.4 474.9h0M144.5 455.7h0M149 482.9h0M166.7 468.4h0M162.4 505.6h0M145.9 493.3h0M169.5 457.4h0M158 505.2h0M158.3 499h0M175.7 469.8h0M144 460.4h0M141.4 490.9h0M173.5 457.2h0M141.6 455.8h0M168.7 463.9h0M167.4 495.8h0M142.7 452.9h0M167.5 470.5h0M147.3 442.5h0M161.6 476.9h0M152.3 504.7h0M157.3 499.7h0M146.6 494.8h0M170.4 475.2h0M162.7 440.4h0M162 505.9h0M151.9 470.7h0M140.5 491.1h0M174.3 485.3h0M152.6 488.9h0M143.8 459.5h0M152.8 483.9h0M174.5 487.2h0M146.8 498.9h0M164.6 439.3h0M140.2 492.6h0M164.4 459.2h0M151.7 449.4h0M143.3 494.4h0M166 487.2h0M173.7 470.8h0M150.9 471.1h0M148.6 439.8h0M144 441h0M159.9 506.8h0M152.6 487.9h0M144.4 438.8h0M157.1 504.7h0M162.1 445.7h0M156.2 504.5h0M163.7 496.7h0M148.6 467.6h0M163.9 465h0M163.9 451.9h0M156.7 492.4h0M157.1 507.9h0M145.8 460.6h0M160.4 459.5h0M169.3 478.1h0M165.8 500.3h0M173.8 490.8h0M170.2 490h0M153.9 468.8h0M162.8 479.7h0M164.6 458.7h0M147.3 438.1h0M147.4 456.5h0M173.2 447.7h0M154 507h0M147 477.6h0M168.2 453.3h0M150.1 446.6h0M150.6 491.7h0M154.5 506h0M168 456.5h0M175 479.7h0M141.2 461.4h0M141.5 491.9h0M152.9 473.2h0M168.6 454.6h0M163.2 500.9h0M141.5 474.3h0M170.4 438.5h0M146 468.1h0M147.4 469.5h0M153.3 471.1h0M160.8 478.6h0M147.7 494.3h0M174.2 450.1h0M145.2 481.3h0M175.3 464.6h0M168.7 454h0M166.1 437.5h0M172 456.1h0M145.8 468.3h0M169.6 441.7h0M154.7 506.4h0M150.3 438.5h0M157.5 507.1h0M146.5 457.2h0M165.6 476.3h0M146.6 437.3h0M150.4 495.8h0M164.8 465h0M158.4 485h0M169.6 462h0M149.9 465h0M148.4 488.8h0M156.5 499h0M166.7 445.5h0M171.6 438.8h0M142.2 480.1h0M165.1 475.1h0M168.3 474.4h0M164.9 494.8h0M143.6 461h0M174.5 479.2h0M136.7 483.7h0M149 442.7h0M146.3 464.8h0M159.5 485.2h0M170.1 488.9h0M162.1 440.2h0M168.1 456.1h0M160.7 505.7h0M139.7 466h0M147 483.9h0M176.3 473.3h0M171.2 464.7h0M146.7 439.7h0M147.8 442.2h0M153.4 482.4h0M161.4 452.9h0M162.2 450.1h0M154.4 497.4h0M152.1 453h0M146.4 478.4h0M170.2 447h0M143.5 494.5h0M165 468.9h0M167.9 466.8h0M163.8 488.6h0M164.2 449.3h0M162.2 498.1h0M147.2 448.6h0M145.7 479.4h0M153.4 470.1h0M168.7 449h0M148.7 442.6h0M145.4 457.2h0M156.6 506h0M151.7 460.7h0M151.9 471.6h0M159.5 492.2h0M164.3 501.5h0M144.7 459.6h0M169 452.2h0M157.8 508.5h0M163.5 475.7h0M137.4 481.4h0M143.6 455.6h0M170.9 489.4h0M147.1 458.4h0M154.1 499.7h0M175.1 438.7h0M155.2 482.7h0M171.2 477.7h0M171.3 461.8h0M169.5 438.8h0M150.2 460.9h0M173.4 446.4h0M173.6 475.8h0M152.4 504.4h0M148.2 446.2h0M156.7 500.3h0M162.4 462.5h0M168.6 492.3h0M153.5 477.7h0M171.9 485.5h0M156.4 508.8h0M163.1 473.3h0M161.2 492.8h0M143.8 439.2h0M175.2 458.1h0M171.8 474.8h0M143.4 491.2h0M171 489h0M150.9 461.4h0M146.8 486.5h0M148.9 457.8h0M153.6 502.9h0M161.4 468.9h0M153.1 479.2h0M144.9 453.7h0M161.6 455.5h0M165.8 486.1h0M173.7 454.6h0M170.2 477.1h0M167.8 478.2h0M148.9 437.9h0M167.2 442.5h0M155.3 483h0M151.8 462.8h0M142.9 463.3h0M154.2 504.4h0M151.7 448h0M147.6 455.8h0M159.9 463.6h0M165.3 443.6h0M152.4 506.5h0M149.3 476.4h0M163.6 482.1h0M160 469.2h0M166.1 459.8h0M166 496.5h0M154.9 479.3h0M163.2 450h0M176.4 484.3h0M140.6 468h0M151.8 485.4h0M144.7 483.5h0M162.7 503.9h0M150.7 459h0M151.3 453h0M143.9 498h0M171.5 467.4h0M150.4 495.3h0M155.4 507.9h0M149.1 443.7h0M170.4 463.1h0M151.9 466.3h0M143.6 458.3h0M152.7 506.8h0M175.2 467.4h0M169.9 469.6h0M169.2 447.5h0M153.6 464h0M143.8 473.1h0M145.7 447.3h0M173.9 465.7h0M173.5 472.5h0M153.1 459.9h0M173.1 458.7h0M158 498.7h0M157.1 508.8h0M175.6 479.5h0M149.5 457.2h0M155.5 496h0M144.4 452.9h0M164.1 468.2h0M159.9 505.2h0M139.2 492h0M139.4 489h0M173.8 467.6h0M142.3 471.6h0M150.7 489.1h0M172.9 462.6h0M152.2 484.8h0M141.9 458.1h0M149.9 472.2h0M147 447.7h0M145.4 473.5h0M163.2 503.3h0M147.6 471.8h0M156.1 508.5h0M160.8 476.3h0M151.5 439.9h0M161.8 506.1h0M149.1 475h0M143.8 474h0M169.7 487.8h0M162.3 480.9h0M162.9 456.1h0M137.5 489.2h0M166.6 475.1h0M143 445.8h0M143.1 446h0M172.7 472.7h0M149.3 437.8h0M143.1 442.5h0M150.6 461.8h0M138.9 468.2h0M145.5 451.7h0M174.9 481.5h0M164.7 467.5h0M165.7 497.5h0M173.2 489.2h0M153.2 503.3h0M145 449.8h0M154.4 506.3h0M142.9 487.5h0M162.1 481.7h0M143.9 498h0M151.5 503h0M164.2 455.6h0M140.1 489.2h0M166.3 450.9h0M151.2 489h0M146.5 456h0M164.4 497.4h0M170.4 456.5h0M143.3 443.9h0M164.6 440.2h0M162.8 444.5h0M162.5 464.7h0M175.4 443.3h0M174.1 489.6h0M146.5 488.5h0M164 459.6h0M142.4 460.6h0M142.4 444.2h0M160.8 492.8h0M159.5 467.8h0M160.2 501h0M143.1 487h0M174.8 448.5h0M165.8 482.3h0M148 454.4h0M162.7 485.1h0M158 504.6h0M147 463h0M176 474.9h0M144.3 437.7h0M148.5 482.7h0M143.6 441h0M164.5 465.1h0M144.3 466.9h0M143.5 484.3h0M151.5 439.3h0M166.8 438.2h0M145.6 439.8h0M163.9 478.5h0M162.1 454.6h0M170.3 495.3h0M168.8 490.6h0M142.6 488.2h0M165.6 467.2h0M154.1 478h0M144.9 493.2h0M162.9 468.4h0M172 471.2h0M145.4 454.2h0M149.4 445h0M167.2 492.8h0M151.6 454.3h0M148.7 459h0M169.4 470.2h0M157.3 508.7h0M174.9 464.3h0M146.9 464.4h0M153.3 462.4h0M159.1 499.9h0M145.3 438.2h0M172.1 443h0M172.1 472h0M144.8 451.9h0M173.3 448.1h0M142.7 475.3h0M146.6 465.3h0M150.8 494.5h0M170.3 439.5h0M171.2 469.3h0M175.7 467.9h0M153.9 502.2h0M171 473.9h0M168.1 445.2h0M165.3 456.6h0M169.8 441.3h0M152.8 459h0M162.2 440.3h0M164.5 469.6h0M146.1 452.4h0M175.4 443.3h0M153.9 463.4h0M166.8 446.6h0M175.3 463.7h0M164.6 443.3h0M149.7 480.5h0M167.3 474h0M161.9 440.7h0M149.1 465.1h0M163.8 502.6h0M171.3 475.9h0M148.9 490.7h0M160.7 495.8h0M176.6 470.9h0M149.9 449.7h0M150.6 440.6h0M161.9 491.7h0M146.6 452.4h0M139.7 479.4h0M165.9 472.9h0M160.4 478h0M145.4 442h0M151.2 477h0M151.2 448.4h0M172.7 478.2h0M175 472h0M171.9 442.8h0M154.5 504.7h0M157.6 508.3h0M155.4 507.6h0M139.3 472.8h0M142.4 457.7h0M141.3 463.9h0M154 500.9h0M147.4 493.1h0M154.6 470.3h0M163.5 499h0M147.5 483.8h0M155.7 508.2h0M174.4 481.5h0M166 464.5h0M163.6 438h0M156.9 505.1h0M138.6 476h0M171.1 444.1h0M155.1 505.7h0M167.6 462.2h0M149.4 476.5h0M145.7 496.5h0M147.1 482.1h0M176.1 481.8h0M145.7 488.6h0M175.1 438.5h0M151.6 484.6h0M162.9 458.1h0M169.2 497.2h0M173.4 476.8h0M150.1 471h0M161.7 496h0M148.2 480.3h0M165.5 482.2h0M172.2 469.9h0M149 443.3h0M164.4 439.3h0M148.6 454.1h0M153.8 503.2h0M168.8 448h0M143.9 497.9h0M140.8 467.4h0M166 444.3h0M167 452.4h0M169.7 438.5h0M171.5 493.7h0M174.9 454.1h0M173.9 444.8h0M166.5 500.3h0M164.1 471.7h0M163.9 494.3h0M171.9 473.7h0M164 503.5h0M165.4 482.8h0M169.8 497.7h0M153.2 503.9h0M148.1 493.4h0M159.4 506.7h0M164.3 479.1h0M176.7 488h0M143.4 443h0M146.2 498.3h0M147.3 491h0M153.2 502.3h0M168.1 468.7h0M153.9 477.8h0M173.4 445.8h0M148.8 454.4h0M148.5 477h0M152.4 505.4h0M174.1 489.4h0M174.3 484.6h0M166.2 492.9h0M162.8 475.7h0M174.9 473.3h0M160 491h0M150.4 495.9h0M152.2 455.1h0M150.8 465.1h0M147 442.1h0M174.4 437.7h0M155.3 491.7h0M172.6 483.9h0M162.8 438h0M140.2 461.9h0M146.3 447.2h0M159.2 468.6h0M169.7 497.4h0M148.5 463.6h0M164.5 456.2h0M174.5 471h0M173 492h0M142.5 483.3h0M167.9 478.4h0M171.1 451.9h0M173.4 491.7h0M156.4 505.2h0M171.3 451h0M158.2 493.3h0M160.1 507.1h0M160 459.1h0M154.7 506.5h0M144.9 466.9h0M147.1 455.3h0M137.8 477.1h0M175.5 482.3h0M151.3 489.2h0M159.8 466.7h0M157.3 508.5h0M167.6 478h0M148.3 500.6h0M160.6 478h0M157.9 507.7h0M161.2 502.1h0M146.1 470.9h0M162.7 497.3h0M165.8 470.5h0M142.9 443.7h0M150.3 497.5h0M174.7 486.8h0M154.8 483.2h0M159.3 506.8h0M170.2 462.6h0M160.5 480.6h0M151.9 492.2h0M176.3 469.8h0M164.3 444.9h0M162.5 445.9h0M160.3 466.5h0M151.4 463.9h0M143.1 447.8h0M168.7 485.9h0M158.7 493.8h0M162.9 448.6h0M161.9 443.8h0M145.7 474.3h0M173.4 461.5h0M174.5 465.4h0M161.2 504.3h0M164.6 439.3h0M149.6 461.9h0M145.4 472.8h0M173.3 445.6h0M163 504.3h0M144.5 471.3h0M168 452.3h0M166.9 475.3h0M146.3 462.4h0M159.4 502.9h0M162.4 491.3h0M174 452.8h0M153.2 488.1h0M163 464.6h0M148.6 451.6h0M152.9 505.7h0M158.6 507.2h0M159.2 507.1h0M161.7 445.2h0M141.7 475.2h0M144.4 451.8h0M149.9 504.5h0M174.4 473.9h0M153.1 454.4h0M171.9 479.5h0M167.8 440.5h0M144.1 467.3h0M169.7 494.3h0M161.6 468.8h0M169.6 496.6h0M143.5 469.3h0M166.8 466.2h0M167.5 487.5h0M150.8 442.6h0M162.5 453h0M157 499.6h0M167.5 494.9h0M151.8 447.3h0M173.1 493.2h0M168.8 474.3h0M148.5 491.7h0M146.8 465.2h0M164 498.3h0M146.2 495h0M148.8 501.1h0M146.7 467.2h0M163.6 503.1h0M143.7 480h0M147.7 445.9h0M174.3 471.7h0M172.1 466h0M145.7 437.8h0M142.3 464.1h0M137.7 484h0M168.2 477.9h0M154.1 498.9h0M164.3 456h0M148.8 449.1h0M167.1 442.5h0M148.7 483.9h0M148.4 491.8h0M148.2 459.2h0M142.7 473.5h0M158.5 485.6h0M144.5 445.7h0M166.3 445.5h0M161.1 499.9h0M140.6 470.7h0M141.1 492.4h0M139.8 465.4h0M162 472.2h0M148.4 466.8h0M142.1 487.7h0M145.3 447.1h0M169.8 474.7h0M165.3 466.3h0M155.5 503.6h0M139.6 473.9h0M144.4 456.4h0M170.5 439.6h0M176.1 480.9h0M169.1 450.2h0M148.6 459.8h0M152 505.1h0M159.2 482.5h0M141.7 458h0M142.9 482.7h0M148.7 456h0M141.1 465.3h0M162.1 495.9h0M173.2 490.9h0M146 466.2h0M157.8 506.4h0M147.9 490.2h0M159.1 466.5h0M172 493.5h0M143.7 443.4h0M150.9 489h0M163.9 470.1h0M171.1 466h0M150.3 438.2h0M156.6 508.9h0M144.8 458.5h0M171.4 481.7h0M150.8 453.9h0M161.8 487.6h0M138.5 479h0M146.3 451.7h0M152.5 497.2h0M147 462.2h0M167.7 458h0M161.5 502.3h0M170.5 450.7h0M161.9 448.1h0M161.8 460.2h0M146.5 489.5h0M171 490.2h0M168.6 487.2h0M162.2 477.4h0M150.7 443.1h0M166.7 490.5h0M151.6 446.3h0M167.8 441.8h0M149.5 460.3h0M153.5 469.1h0M167.4 446.4h0M148.3 476h0M145 441.1h0M169 454.2h0M162.8 499h0M149.6 488h0M150.9 485.9h0M146.3 440.2h0M167 449.2h0M140.5 484.5h0M157.3 508.5h0M165.2 470.9h0M162.9 504.9h0M164.4 462h0M162.1 505.3h0M151.6 481.3h0M164.3 453.1h0M156.8 508.7h0M151.5 467h0M166.1 493.8h0M151.3 438.8h0M160.6 457.1h0M162.4 454.4h0M148.6 440.4h0M169 481.3h0M162.6 480.7h0M163.4 449.8h0M148.9 502.1h0M163.1 470.4h0M164.2 489h0M153.8 486.3h0M154.3 498.9h0M146.2 469.6h0M162.2 442.1h0M152.2 503h0M162.1 489.4h0M169.6 461.5h0M175.6 455.4h0M148.8 485.5h0M142.9 476.5h0M159.9 504.3h0M160.3 483.3h0M168.3 456.4h0M170.3 458.7h0M169.4 455.8h0M141.6 469.5h0M147.8 480.9h0M159.9 493.8h0M154.4 476.4h0M157 508.8h0M158.3 485.8h0M164.6 480.3h0M171.2 450.5h0M168.7 456h0M159.7 499h0M166.4 469.7h0M142.5 487.2h0M147.1 453h0M156.7 508.9h0M150.1 443.2h0M147.6 483.1h0M168.9 453.7h0M164.9 500.8h0M171.3 449.7h0M154.2 504.9h0M156.2 496.1h0M141.7 448.8h0M175.6 482.7h0M143.1 443.2h0M171.9 463.5h0M165.1 441.2h0M144.9 490.3h0M155.4 507h0M149 454.2h0M166.1 497.8h0M173.9 464.6h0M155.2 504h0M161.6 459.3h0M142.6 487.3h0M173.1 457h0M163.5 504.4h0M144.9 470.7h0M168.8 492.7h0M140 475.7h0M145.4 476.5h0M175.2 438.6h0M141.3 469.4h0M162.8 446.4h0M156.6 508.8h0M167.4 448.5h0M151.2 441h0M168.8 451.6h0M174.2 451.7h0M164.9 502.6h0M149.2 449.8h0M154 500.1h0M169.7 458.3h0M145.9 498.3h0M151.3 479.5h0M150.5 442.9h0M146.1 439.3h0M144.5 443.4h0M164.1 447.3h0M151.4 457.7h0M174.6 476.3h0M143.1 479.3h0M139.8 487.2h0M160.8 489.7h0M175.3 442.6h0M148.9 485.5h0M141.2 458.5h0M171 473.9h0M156.6 508.2h0M144.6 446.4h0M162.1 467.9h0M165.5 444.9h0M153.5 506.3h0M159.1 503.1h0M163.2 466h0M151.5 505.8h0M152.1 487h0M138.1 475.3h0M152.1 491.1h0M160.5 494.4h0M156.7 505.8h0M151.2 448h0M143.1 482.8h0M162.2 480.7h0M139.1 474.8h0M161.9 500.7h0M167.2 454.8h0M163.1 438.1h0M153.3 494.4h0M146.1 483.2h0M146.9 485.9h0M152.3 506.5h0M155.7 495.3h0M147.5 487.8h0M161.2 481.8h0M162.7 504.2h0M160.8 464.4h0M150 438.9h0M148 437.8h0M159.5 502.2h0M163.2 499.1h0M174.6 482.4h0M149.8 472.6h0M152.9 488.3h0M173.4 438.8h0M150 478.1h0M170 459h0M175.8 486.3h0M165 502.9h0M164.5 448.2h0M166.1 472.8h0M146.5 439.5h0M146.9 501.1h0M145.4 444.5h0M160.5 458.5h0M142.2 460.7h0M147.4 490h0M167.2 457.3h0M165.7 451.3h0M170.7 485.1h0M146 475.5h0M147.1 488.6h0M170.9 494.8h0M149.6 441.1h0M150.9 478.9h0M164 491.1h0M157.6 499.8h0M162.4 474.2h0M165.1 487.9h0M159.1 470.2h0M176.5 486.5h0M156.4 508.4h0M142.3 470.3h0M155.8 494.3h0M141.2 482.9h0M165.9 479.7h0M151.5 479.1h0M149.6 451h0M147.4 448.9h0M168.3 485.1h0M141.3 466.9h0M145.6 486.1h0M160.9 504.1h0M175.3 450.6h0M154.9 502.3h0M151.3 466.6h0M174.2 480.7h0M146.3 472.9h0M147.7 442.1h0M147.2 453.9h0M156.1 504.8h0M151 479.3h0M160.2 486.2h0M160.7 463.7h0M168.4 442.4h0M148.7 464.9h0M146.3 467.8h0M164 488.1h0M145 475.2h0M149.3 456.5h0M167 439.7h0M158.7 487.2h0M142.2 479.1h0M147.1 499.3h0M173.1 444.3h0M157.4 508.4h0M143.1 482.5h0M158.5 489.3h0M144 480.1h0M137.6 480.7h0M164.5 438h0M145 497.7h0M147.2 473h0M148.8 451.5h0M156.3 500.2h0M168.6 470.8h0M173 490.6h0M158.1 502.4h0M154.1 499.5h0M146.6 458.3h0M162.8 453.6h0M171 480.4h0M145.3 477.7h0M175.4 470.6h0M154.7 508h0M174 454.5h0M145.7 450.5h0M142.2 447.3h0M150.8 466.9h0M169.3 445.8h0M158 507.8h0M142.1 464.1h0M153.8 471h0M142.9 469.3h0M170.9 471.7h0M142 454.8h0M167.1 458.1h0M156.1 495.7h0M145 473.1h0M159.7 475.2h0M148.9 493.2h0M151.6 504.4h0M153.6 478.4h0M152.3 498.8h0M153.1 478.1h0M156.9 508.9h0M164.6 495.4h0M142.6 483.3h0M176.2 481.6h0M137.9 474.7h0M158.6 501.1h0M154.2 501.5h0M161.9 505h0M162.8 484.8h0M148.8 437.3h0M160.7 496.3h0M173.8 445.5h0M162 441.2h0M167.6 492.6h0M176 470.3h0M145.7 441.1h0M144.9 438.2h0M173.5 468.8h0M161.1 461.4h0M160.2 494.2h0M153.1 502.5h0M154.5 474.3h0M152.6 502.2h0M152.3 497.1h0M161.4 502.1h0M164 499.5h0M161.9 468.6h0M160.6 485.1h0M165.8 467.4h0M152.9 455h0M151.8 456.8h0M150.9 502.7h0M154.4 503.6h0M152.6 451.9h0M147 448.5h0M142.7 465.6h0M156.7 495.8h0M146.3 456.6h0M170.3 455.4h0M148 502.8h0M174.3 460h0M162.7 459.5h0M152.1 505h0M152.4 503.3h0M163.7 451.5h0M146 498.3h0M148.4 494.4h0M165.2 471.6h0M169.9 462.8h0M158.5 501.6h0M159.6 468.4h0M165.5 443.3h0M140 471.4h0M173.1 438.9h0M155.9 492.6h0M151 465.8h0M147.8 438h0M149.1 496.5h0M147.8 502.2h0M165.2 466.3h0M147.6 458.4h0M137.4 478.4h0M176.1 478.9h0M142.7 460h0M147.5 494.3h0M162.5 465.5h0M149.1 501.7h0M152 458.6h0M167.7 448.3h0M166.1 500h0M150.2 469.8h0M153.1 475.7h0M148.3 444.1h0M143 446.5h0M168.5 455.9h0M147.7 444.2h0M144.9 474.3h0M172.5 440.2h0M144.6 458.5h0M160.7 491.8h0M163 487.8h0M164.5 461.5h0M172 438.8h0M165 501.1h0M147.2 489.9h0M152.5 462.5h0M151.3 502.7h0M174.4 487.6h0M165 468.2h0M152.3 466.7h0M175.5 485.7h0M142.4 478.7h0M146.4 489.8h0M140.1 482.4h0M169.4 460.7h0M142.1 488h0M167.1 492.2h0M173.5 453h0M151.2 460h0M162.7 444.3h0M148 492.6h0M165.9 494.4h0M174.1 482.8h0M174.1 450.2h0M173 460.1h0M147 466.3h0M151.1 465.6h0M156.7 508.7h0M161.6 474.4h0M166.5 493.5h0M140.6 487.6h0M142.5 481.2h0M149.3 441.2h0M142.3 485.1h0M148.4 473.7h0M143.7 449.9h0M152.8 506h0M144.7 483.6h0M148.4 441.9h0M138 485.7h0M169.9 448.2h0M148.1 449.4h0M162.4 451.5h0M169.3 457.5h0M172.2 455.9h0M167.8 498.5h0M156.4 508.8h0M162.9 454.7h0M149.4 495.1h0M165.8 447.2h0M146.6 470.2h0M150.1 461.7h0M147.6 460h0M171.3 464.5h0M149.2 440.2h0M141.5 478h0M147.2 496.5h0M175.1 478.7h0M166.9 470.9h0M154.9 481.5h0M141.8 451.9h0M147.5 494.1h0M151 504.1h0M147.9 473.5h0M151.5 493.6h0M173.5 482.2h0M159 485.9h0M144 452.7h0M162.1 447.3h0M153.4 507.4h0M152.6 473.6h0M163.9 452.4h0M150 455.3h0M140.8 487.2h0M174.6 451.7h0M163.4 451.8h0M176.1 460.4h0M168.3 483.9h0M149.3 504h0M141.9 464.6h0M163.4 441.4h0M175.3 468h0M172.1 458.8h0M142.5 442.9h0M152.7 498.5h0M152.7 456.3h0M169.3 487.4h0M148.3 474.3h0M154.6 480.2h0M160.8 495.5h0M166.4 489.5h0M156.3 508.8h0M155.1 506.7h0M167.3 478.7h0M171.4 453.4h0M160.3 503.4h0M156.5 507.4h0M175.2 438.3h0M146.1 499.1h0M162 461.6h0M150.3 463.2h0M147.9 477.4h0M165.3 489.4h0M154.7 500.9h0M142.4 450.7h0M161.3 497.6h0M165.8 491.1h0M161.8 459.2h0M151.8 447h0M169.1 460.9h0M160.8 458.6h0M165.6 456.5h0M148.5 489.3h0M143.4 460.2h0M158.9 507.4h0M139.9 480.9h0M160.9 470.9h0M148.1 459.1h0M160.1 464.3h0M157.2 507.4h0M149.8 490.5h0M152.5 505.8h0M152 497.2h0M171.8 450.5h0M138.8 488h0M153.5 493.6h0M170.7 448.8h0M139.6 464h0M166.5 489.7h0M150.4 480.8h0M163.3 470.1h0M170.5 474.3h0M143.1 440.6h0M175.5 462.4h0M147.6 452.9h0M156.1 508h0M159.1 505.9h0M152.7 494.8h0M156.2 499.6h0M175.6 463.4h0M160.6 504.3h0M169.6 489.5h0M143.8 447.2h0M145.5 441.4h0M160.5 496.2h0M171 449.7h0M172.3 455.1h0M151.4 492.7h0M149.5 482.5h0M155.3 508.3h0M162.6 440.2h0M152.9 479.9h0M143.2 449.3h0M152.5 456.1h0M172.2 457.1h0M161.4 492.6h0M144.4 470.5h0M150.7 498.1h0M161.8 467.8h0M146.5 495.2h0M140.7 474.6h0M172.5 493.4h0M151.4 504.5h0M151.4 477.3h0M165 487.1h0M172.5 484.8h0M164 488.8h0M145.3 499.7h0M154.2 472.8h0M171.5 487.3h0M163.7 440.9h0M151.3 466.7h0M156.6 508.9h0M156 506.7h0M147.8 470.9h0M173.1 440.5h0M146.9 454.7h0M146.3 469.1h0M165.1 486.6h0M161.4 504.6h0M145.9 471.2h0M142.5 454.5h0M166.2 483.3h0M174.8 451h0M172.7 437.3h0M145.6 447.7h0M149.8 460.3h0M165.6 457.7h0M165.3 489.7h0M171.5 444.8h0M147.8 499.4h0M150.1 452.1h0M158.4 491.5h0M152.7 495.3h0M165.1 491.5h0M144 445.1h0M158.5 492.4h0M165.5 447.4h0M158.9 495.8h0M150.9 475.8h0M141.4 465.7h0M149.3 494.5h0M146.3 444.5h0M168.6 464.6h0M164.1 438.3h0M145 442.6h0M163.9 495.2h0M141.6 455.3h0M167.1 461.9h0M147.4 438.7h0M160.9 477.1h0M167.1 489.3h0M169.3 477.1h0M148.6 455.6h0M156.3 505.5h0M152.8 503.5h0M145.1 492.3h0M159.4 496.2h0M147.3 494.7h0M153.3 503.6h0M164.7 440.2h0M145.2 451.3h0M161.8 505.2h0M166.9 478.1h0M158.9 474.9h0M151.3 451.2h0M163.7 463h0M138.9 484.8h0M148.8 499.3h0M146.5 444.1h0M144.9 476.2h0M148 454.9h0M170.9 491.1h0M175 470.6h0M166.8 442.2h0M150.8 484h0M147.9 489.6h0M163.8 477.7h0M144.9 444.9h0M176.2 485.3h0M163.2 489.3h0M170.2 472.9h0M137.4 487.8h0M165.7 450.6h0M163.1 482.6h0M148 439.1h0M164.8 471.9h0M147.4 452h0M148.8 500.1h0M165.5 441.2h0M173.7 445.2h0M158.3 508.3h0M141.9 456.2h0M174.9 457.7h0M147.6 447.2h0M145.2 483.6h0M155 507h0M144.8 489.6h0M174.9 485.7h0M172.3 461.8h0M150.8 450.7h0M144 456.5h0M164.3 503.9h0M150.9 462.1h0M143.7 453.3h0M172.4 484.8h0M145.3 476h0M161.2 466.9h0M176 469.5h0M174.4 439.2h0M145.1 460.9h0M173.3 482.6h0M167.8 492.9h0M173.6 444.4h0M159.1 505.3h0M150.9 492h0M159.6 493.8h0M165.1 484.8h0M169.2 493.9h0M164.6 454.6h0M139.2 481.7h0M167.1 489.9h0M154.8 497.3h0M150.9 440.9h0M171.3 442.4h0M148.4 461.5h0M150.7 448.2h0M156.7 498h0M151.2 502h0M169.6 488.8h0M155.3 489.6h0M169.5 441.1h0M150.9 439h0M153.7 476.5h0M156.3 502.3h0M164.3 499.9h0M166.6 442h0M164.1 458.5h0M153 478.6h0M159.4 501.9h0M143.6 442.9h0M143.8 464h0M148.8 492.1h0M146.4 438.5h0M166.7 500.2h0M163.2 500.8h0M164.1 442.4h0M149.9 504.2h0M144 458h0M169.9 472.1h0M170.7 496.3h0M165.2 450.1h0M146.7 441.1h0M174.7 484.9h0M151.7 505.8h0M167.1 479.7h0M165.8 443.6h0M165.5 441.1h0M174.5 491.2h0M139.5 476.7h0M163.2 442h0M175.3 475.4h0M143.7 443h0M141.7 476.4h0M145.9 468.1h0M174.4 443h0M147.5 442h0M147.2 475.6h0M162.2 504.9h0M143.2 462.9h0M155.8 504.1h0M167.6 453.3h0M168.2 498.4h0M165.1 466.7h0M153 489.2h0M175.3 448.7h0M154.3 499.8h0M175.4 466.3h0M176.6 472.4h0M170.8 461.4h0M164.6 439.3h0M140.4 479h0M166.7 483.4h0M166.9 498h0M164.5 489.9h0M167.1 463.6h0M150.8 485.6h0M164.7 480.7h0M143.2 484h0M170.6 460.6h0M163.7 471.7h0M170.8 460h0M153.1 476h0M169.2 451h0M153.5 488.5h0M138.7 483.1h0M162.5 498.7h0M174 457h0M144.5 458.8h0M161 465.5h0M151.2 478.6h0M138.4 484.6h0M172.2 462.4h0M150.1 471.7h0M154.9 479.4h0M140.9 454.6h0M164.8 449h0M144.3 437.3h0M161.5 468.8h0M168.8 471h0M162.6 459.8h0M172.7 453.6h0M172.2 462.5h0M162.8 449.7h0M144.1 445.1h0M149.7 462.3h0M149.7 445.7h0M173.1 457.7h0M161.1 461.8h0M146.3 482.4h0M164.1 453.6h0M147.4 466.9h0M173.4 451.1h0M153 503.2h0M138.9 476.9h0M173.7 453.8h0M158.5 495.6h0M152.4 457.9h0M148.6 443.3h0M167 471.4h0M151.2 445.8h0M144.6 456.5h0M154 497.5h0M148.1 451.1h0M173.4 437.5h0M156.2 501.6h0M149.1 440.4h0M163.2 444.6h0M145.6 441.3h0M175.2 438.8h0M168.4 464.1h0M158.6 501.4h0M174.1 440.1h0M147.6 465.3h0M160.7 470.9h0M167.6 455.2h0M148.2 498.9h0M142.3 445.6h0M165.3 456.7h0M164.1 445.8h0M137.5 486.2h0M173.2 447.1h0M153.8 490.9h0M145.8 462.9h0M161.7 458.1h0M146.9 438.3h0M148.7 470.4h0M175.7 471.6h0M162.5 460.5h0M143.5 445.6h0M157.4 493.9h0M159.6 506.4h0M159.5 506.8h0M167.2 494.3h0M149.9 440.3h0M168.7 490.5h0M168.9 460.6h0M172.4 478.1h0M158.7 507.3h0M163.5 447.6h0M161.5 457.3h0M161.1 498.2h0M161.8 500.3h0M163.6 462.4h0M150.4 503.7h0M157.2 505.1h0M176.4 483.8h0M168.5 439.4h0M173.4 450h0M140.8 482.2h0M163 478.7h0M160.6 500.3h0M145.2 490h0M142.3 450.6h0M164 442.8h0M168.2 497.9h0M144 473.8h0M162.5 485.7h0M171.6 480.8h0M142.6 495.9h0M172.1 479.4h0M156.9 506.8h0M160.7 504.8h0M166.5 440.3h0M161.6 480.7h0M152.8 454.9h0M144.4 444.5h0M172.8 439.7h0M162.8 468.2h0M155.7 503h0M146.9 484.9h0M148.3 440.1h0M175.9 457.4h0M149.3 445.7h0M171.1 486.6h0M159 504.7h0M143.4 437.7h0M150.8 459.8h0M141.3 488.7h0M152 505.7h0M159.6 504.2h0M147.5 484h0M156.9 495.1h0M145.9 452h0M146.8 455.2h0M161.4 473.4h0M171.9 456h0M150.9 493.6h0M144.7 441.1h0M139.8 467.3h0M142.9 486.1h0M153.9 507.2h0M176.3 468.8h0M157.4 505.6h0M163.1 474.8h0M172.4 450.2h0M169.8 491.9h0M175.3 467.3h0M176.7 477.4h0M151 456h0M145.4 491h0M146.4 480.2h0M150.7 449.4h0M143 440.4h0M147.4 455.1h0M152.4 449.8h0M160.6 478.8h0M139.6 478.1h0M142 448.2h0M168.4 463.3h0M168.3 498.7h0M173.4 450.5h0M176.1 462.5h0M144.9 449.1h0M145.4 478.2h0M150.7 445.4h0M150.2 440.9h0M153.6 498.2h0M162.3 474.1h0M154.7 496h0M154.5 506.4h0M139 476.8h0M161.5 478.5h0M155.1 496.3h0M159.9 491.5h0M144.3 491.4h0M168.2 480.2h0M151.9 448.3h0M140.3 468.6h0M145.8 440h0M169.6 495.2h0M168.7 483.3h0M152.8 462.4h0M152.4 506.4h0M150 486.9h0M147.1 471.7h0M145.6 442.3h0M158.1 504.4h0M148.1 502.8h0M167.5 453.4h0M159.3 465h0M165.7 438.5h0M169 457.6h0M146.7 486.4h0M146.3 463.7h0M161.5 502.9h0M171.5 452h0M174.2 473.1h0M139.7 467.8h0M153.7 496.1h0M166.6 457.5h0M168 471.3h0M139.2 475.6h0M152.2 460.2h0M153.6 484.1h0M174.2 444.7h0M154.4 470.8h0M175.9 480.6h0M160.2 505.3h0M168.9 470.4h0M164.5 467.3h0M164.9 495.6h0M152.5 485.9h0M167.9 472.6h0M169.8 450.9h0M156.3 503.6h0M171.8 448.8h0M173.6 439.6h0M162 479.7h0M143.9 455.6h0M147.9 485.5h0M159.6 464.1h0M142.5 443.1h0M176.1 476.7h0M143.2 473.1h0M156 507.4h0M146.6 481.4h0M172.1 440.5h0M147.4 446h0M142.5 470.9h0M165.1 487.3h0M140.4 466.6h0M160 503.8h0M170.5 466.3h0M167.8 481.9h0M145.4 460h0M155 485.7h0M142.5 444.4h0M171.3 484.8h0M147 455h0M150 495h0M158.9 498.3h0M149.5 502.3h0M166.5 473.9h0M150.8 446.6h0M165.9 441h0M165.1 497.8h0M146.5 474.1h0M162.5 505.5h0M148.6 438.9h0M146.3 442.6h0M164.7 472.6h0M158.6 492.7h0M153.8 479h0M163.1 499.5h0M165.5 499.7h0M156.6 508.2h0M142.8 444.7h0M159.8 477.6h0M142.7 492.8h0M153 487.4h0M136.9 487.4h0M152.2 471.2h0M159.8 484.6h0M142.9 489.6h0M140.8 457.1h0M173.8 441.9h0M163.8 483.1h0M173.9 465.3h0M171 478.2h0M157.3 504h0M170 444.9h0M161.6 465.4h0M169.5 466.5h0M162.8 495.3h0M168.7 441.8h0M165.6 483.9h0M158.4 506.1h0M170.4 448.8h0M158.3 507.8h0M153.5 486.3h0M170.8 479h0M143.1 484.4h0M172.4 447.6h0M146.3 470.7h0M143.6 440.3h0M149.2 453.7h0M145.8 475.9h0M167.6 490h0M156.4 490.8h0M170.4 461.5h0M143.5 467.7h0M170.9 459.1h0M167.3 439.7h0M149 480.4h0M144.2 491.5h0M143.2 495.3h0M152.7 490.5h0M148.8 503.5h0M153.6 501.9h0M156.3 506.6h0M163.7 495.6h0M153.4 484h0M170.1 495.6h0M152 468.9h0M166.4 492.9h0M159.7 496.1h0M172.1 483.7h0M144.1 486.5h0M166.2 480.4h0M171.3 470.2h0M144.7 496.3h0M167.2 463.6h0M143.8 496.7h0M147.2 457.8h0M175.9 470.4h0M146.2 453h0M163.9 467.5h0M166.7 476.9h0M161.7 491.5h0M164.8 447.2h0M150.4 438.3h0M157.6 506.1h0M140 460.3h0M151.6 476.3h0M172.8 448.1h0M157.9 507.9h0M160.2 505.7h0M156.5 508.9h0M148.5 475.3h0M144.4 493.7h0M139.8 483.4h0M150.1 481.8h0M159.7 474.8h0M163.9 442.5h0M149.6 472.6h0M137.9 478.2h0M146.1 439.3h0M143.7 487h0M169.1 467.7h0M166.8 465.1h0M144 451.5h0M150.6 477.6h0M143.1 451.4h0M141.7 477h0M156.9 508.5h0M164 458h0M171.5 474h0M173.5 443.2h0M159.3 502.6h0M175 447.5h0M167.3 449.3h0M166.7 493.7h0M151 479.2h0M138.8 476.4h0M148.2 443.5h0M162.6 464.5h0M172.9 482.8h0M156.9 507h0M173.1 448.1h0M140.6 491.2h0M165.2 467.3h0M161.7 445.2h0M158.1 506.6h0M144.4 463.3h0M163.6 473.8h0M171.3 457h0M169.2 496.2h0M175.5 469.7h0M152.1 487.9h0M160.6 454h0M145.6 462.7h0M153.5 476h0M161.9 465.4h0M145.2 495.6h0M167.7 477.7h0M160 498.5h0M148 448h0M142.8 467.2h0M171 483h0M146.1 446.9h0M174.1 455.9h0M162 455.4h0M175.9 451.4h0M170.2 477.9h0M157.3 506.1h0M148.3 459h0M141.6 468h0M148.2 483.4h0M171.1 439.9h0M149.4 487.4h0M170 460h0M158 501.3h0M156.6 506.7h0M138.1 489.7h0M161.7 493.3h0M169 446.4h0M157.3 506.8h0M145.9 452.4h0M154.2 496.5h0M144.9 473.8h0M162.3 483.5h0M166.8 455h0M152.1 487.3h0M155.8 504.8h0M150.6 478.1h0M176.7 480.3h0M158.5 506.5h0M167.3 470h0M172.6 458.9h0M166.6 500.7h0M159.5 490.6h0M160.6 456.8h0M156.5 508.9h0M169.2 470.4h0M172.2 443.9h0M161.9 503.8h0M158.2 506.5h0M171 463h0M167.5 477.4h0M165.9 477.4h0M169.9 462.1h0M145.1 444.1h0M156.7 491.5h0M153.4 499.5h0M172.6 455h0M169.4 456.7h0M174.9 462h0M149.2 437.5h0M145.4 447.1h0M164 437.9h0M151 457.1h0M149.7 494.9h0M158.5 507.3h0M175.5 480h0M147.8 463h0M173.2 481.8h0M162.2 502.3h0M165.9 444h0M171.7 481h0M164.4 444h0M153.6 473.9h0M146.1 470.4h0M140.3 474.2h0M140.6 456h0M155.1 503.8h0M173.3 487.9h0M158.7 501.3h0M164.2 457.1h0M168.8 476.1h0M146.8 487.6h0M158.2 480.1h0M141 485.3h0M151.6 483.7h0M157.6 508.2h0M157.7 492.5h0M169.4 456.6h0M166 483.2h0M152 447h0M173.7 480.4h0M144.2 472.9h0M175.6 479.8h0M163.3 460.3h0M161.6 499.4h0M150.1 471.8h0M168.3 452.6h0M161.3 501.2h0M144.1 474.6h0M155.9 492.9h0M144.8 486.1h0M144 448.3h0M144.3 493.1h0M155.3 506.1h0M156.5 492.9h0M155.3 504.5h0M158.1 483.2h0M158.3 491.7h0M173.1 462.1h0M151.9 474h0M143.2 475.6h0M167 445.4h0M174.6 460.6h0M159.7 499.8h0M161.9 505.2h0M175.4 462.4h0M169.3 466.1h0M148.6 438.8h0M155.9 508.3h0M150.4 445.5h0M145.7 492.5h0M145.1 469.9h0M144.2 455.5h0M159.7 507.6h0M160.6 470.5h0M150.5 500.2h0M157.7 505.3h0M160.6 457.4h0M157.2 499.5h0M163.9 443.8h0M144.9 461.7h0M166 444.6h0M150 465.9h0M163.9 488.7h0M169.2 443.3h0M144.7 444.8h0M164.1 454.9h0M149.4 445.5h0M150.5 460.6h0M146.9 470.8h0M148.3 496.6h0M171.4 443.2h0M159.3 502.7h0M175.4 449h0M137.9 477.6h0M139.5 466.6h0M171 446.4h0M153.3 469.1h0M147.5 466.9h0M153.4 472.6h0M173.5 458.1h0M174.3 455.2h0M163 477.1h0M169.5 486h0M142.8 441.9h0M172.3 470.4h0M159.1 506.6h0M152 453.4h0M163.9 437.3h0M149.6 473.8h0M169.9 468.1h0M142.4 491.1h0M158 508.3h0M149.7 483h0M169.1 482h0M141.8 494h0M167.7 499.9h0M155.2 503.1h0M144.3 492.6h0M147.2 485.1h0M157.5 508.7h0M168.5 477.3h0M154 480.1h0M168.4 440.6h0M160.8 479.5h0M147.6 489.9h0M173.3 450.9h0M146.9 447.6h0M142.5 479.4h0M154 496.3h0M142.2 479h0M163 488.2h0M152 502.1h0M175.9 480.3h0M150.8 483h0M164 487.9h0M175.4 456.1h0M161.3 488.1h0M144.2 446.3h0M159.5 479h0M167.2 437.8h0M147.6 502.2h0M170.1 485.7h0M168.3 497.8h0M150.5 453.4h0M168.4 447.8h0M159 499h0M154.1 474.6h0M171.4 491.8h0M173.7 454.2h0M164.2 444.4h0M162.8 496.2h0M170.4 455.2h0M159.8 503.2h0M161.3 450.3h0M163.2 456h0M153.8 478.2h0M143.6 458.4h0M151.6 463.3h0M151 444.4h0M160.9 483.3h0M149.8 440h0M166.2 473.9h0M141.9 446.3h0M149.2 448.5h0M163 447.7h0M172.3 447.9h0M162.4 503h0M172.1 457.2h0M149.7 468.6h0M148.3 447.2h0M175.5 462.7h0M169.6 444.4h0M173 443.2h0M148.9 438.8h0M176.2 469.8h0M167 445.1h0M149.7 502.3h0M171.7 453.2h0M168.4 467.9h0M143.4 486.4h0M160.1 500.5h0M175.2 460.9h0M175.4 474.4h0M168.9 461h0M160.3 487.2h0M149.7 457.9h0M164.2 462.4h0M152.7 470.5h0M165 438.9h0M153.8 489.3h0M141.3 459.3h0M159.2 485h0M166.9 445.8h0M153.5 492.7h0M174.7 450.3h0M165.7 461.5h0M170.4 460h0M142.5 495.8h0M165.7 475.3h0M166.7 445.5h0M167.2 465.3h0M138.8 487.4h0M150.1 453.9h0M138.9 480.4h0M147.3 495.6h0M165.8 448.8h0M160 483.9h0M172.7 449.2h0M160.9 455.3h0M160.6 499.6h0M153.9 501.8h0M148.8 461.9h0M159.3 505.8h0M164.7 452.3h0M147.5 443.1h0M158.3 495.1h0M173.3 461.9h0M152.5 489.7h0M160.5 482.2h0M175.9 469.3h0M163.8 497.7h0M169.8 446.9h0M167 501h0M150 458.8h0M162.3 502h0M140.6 462.1h0M161.4 489.3h0M173.3 446.1h0M165.7 456.1h0M142 495.7h0M165.8 482.9h0M176.2 474.7h0M141.4 487.9h0M147.4 482.9h0M169 493.7h0M150 497.9h0M156.8 508.2h0M146.6 443.4h0M169.4 492.4h0M168 457.4h0M143.9 438h0M137.9 478.6h0M165.2 498.5h0M139.6 491.2h0M145.4 486.6h0M170.5 445.5h0M167.3 442.1h0M172.3 485.3h0M162.9 469.6h0M169.7 483.8h0M164.4 497.9h0M170.6 471.2h0M149.4 502.3h0M157.2 508.1h0M153.3 473.3h0M150.8 456.5h0M149.4 502.1h0M158.5 500.8h0M174.6 488.3h0M161.5 483.9h0M166 458.5h0M145.1 473.6h0M142.7 462.3h0M165.1 455.9h0M147.3 456.4h0M148.2 455h0M149 498.9h0M165.5 441.9h0M164.3 487.9h0M148.7 438.1h0M147.8 443.6h0M170.4 438.1h0M159.4 475.7h0M164.3 477.9h0M151.1 437.3h0M144.4 464.1h0M144.9 477.1h0M160.1 499.1h0M145 445.4h0M172 474.4h0M172.8 445.9h0M151.2 454.6h0M164.6 446.2h0M149.5 483.8h0M171.4 486.1h0M143.9 497h0M146 443.5h0M148.6 455.2h0M148.4 489.6h0M171.8 491.2h0M146.7 467.7h0M173.4 483.7h0M138 484.6h0M143.5 441.7h0M140.8 455.2h0M165 441.8h0M164 440.1h0M170.9 453.7h0M147 497.4h0M163.1 469.7h0M154.9 499.6h0M149.3 473.8h0M175.7 454.1h0M159.8 505.5h0M167.4 472.9h0M167.6 445.4h0M156.1 508.7h0M168 463.9h0M144.6 443.8h0M165.8 476h0M138.7 487.1h0M162.8 447.8h0M163.7 480.6h0M164.3 500.9h0M150.5 447.5h0M142.9 480.2h0M167.3 496.8h0M163.4 503.6h0M142.9 457.7h0M144.9 478.1h0M171.8 451.5h0M164.4 478h0M165.3 440.7h0M141.7 473.5h0M166.9 483.2h0M148.9 450.2h0M157.5 499.8h0M158.3 495h0M163.7 490.6h0M157.8 504.8h0M164.2 473.3h0M149.4 446.2h0M164.7 457.2h0M149.9 489.1h0M157.7 507.8h0M143.8 463.9h0M153.5 457.5h0M163.4 486.3h0M165.7 457.9h0M151.4 477.8h0M174.1 459.4h0M143.1 462.7h0M165.1 458.5h0M154.8 503.4h0M167.9 458.5h0M168.2 497.2h0M152.8 473h0M144.8 439.7h0M153.1 500h0M159.7 487.6h0M142.7 484.8h0M141.9 491.2h0M162.2 458.5h0M144.2 498.6h0M153.6 457.8h0M148.7 469.9h0M175.6 446.7h0M168.3 489.2h0M154 494.4h0M164.7 494.2h0M173 493h0M173.8 442.5h0M168.6 492.2h0M171.1 481.6h0M165.1 482.3h0M164 454.9h0M142.2 454.8h0M151.5 459.5h0M167 470.5h0M160.9 476.3h0M151.6 498h0M152.3 467.7h0M150.9 454.9h0M138 482.2h0M162.3 457.8h0M169.3 439.8h0M162.1 503h0M146.1 464.9h0M149.4 467.1h0M163.9 454.6h0M156.1 508.8h0M147.4 441.7h0M172 471.2h0M169.3 493.9h0M172.5 440h0M166.7 467.5h0M162.9 443h0M173.1 479.1h0M172.8 485.2h0M148.3 491.5h0M168 485.3h0M151.8 450.4h0M159.6 497h0M153.5 505h0M150.8 491.2h0M171.1 494.1h0M171.4 468.5h0M170.2 450.5h0M161.9 453.2h0M146.4 445.2h0M149.9 462.4h0M164.1 479.8h0M160.8 502.9h0M146.5 440.6h0M139.6 486.3h0M141.3 458.8h0M143.1 466.3h0M146.1 444.8h0M161.7 474.9h0M143.2 459.8h0M155.9 508.6h0M172.6 453.1h0M161 506h0M144.7 445.2h0M159.8 476.7h0M175.1 471.4h0M164.8 470.1h0M163.5 473.7h0M170.5 483.4h0M160.2 467.1h0M158.5 488.7h0M159.5 495.1h0M151.4 462.4h0M156.9 496.3h0M145.3 488h0M142.8 466.3h0M138.9 489.2h0M170.7 467.2h0M168.4 445.8h0M154.2 507.8h0M166.8 460.8h0M166 499.2h0M146.2 497.8h0M159.3 470.5h0M146.4 466.2h0M147.4 491.6h0M154.4 491.4h0M161.7 463.4h0M163.5 489.3h0M145.3 464.1h0M151.7 444.5h0M156.2 505.8h0M174.7 470.9h0M161.3 485.6h0M149.4 466.2h0M149.5 461.7h0M166.2 494.3h0M148.1 441h0M175.7 479.5h0M163.5 499.9h0M159.2 495.3h0M147.8 480.4h0M146.6 500.8h0M150 446.3h0M162.2 475.1h0M157 508.6h0M141.4 459.6h0M160.1 501.1h0M165.6 467.9h0M154 498.2h0M160.5 451.6h0M170.5 482.7h0M143.1 447.7h0M163.5 470.1h0M145.1 469h0M171.1 439.3h0M161 468.1h0M171.4 472h0M151.1 470.4h0M145.9 471.2h0M155.6 493.5h0M142.7 456.3h0M172 450.6h0M155.3 508.4h0M158.7 498h0M160.9 481.5h0M144.9 480.4h0M163.1 504.7h0M173.7 490.5h0M153.2 494.9h0M143.7 442.6h0M167.8 456.6h0M148.8 461.6h0M148.1 472.1h0M152.8 479.4h0M170.5 469.3h0M148.7 482.9h0M171.8 478.8h0M144.3 456.3h0M143.9 472.3h0M151.6 440.3h0M143.6 443.4h0M164.3 491.5h0M148.7 451.9h0M163.5 475.6h0M168.4 465.8h0M171.7 495.1h0M158.4 496.8h0M145.4 498.3h0M165.9 439.2h0M154.1 502.2h0M159.7 485.7h0M139.9 463.3h0M166.8 479h0M158.4 501.8h0M163.6 481.2h0M156.3 501.3h0M140.8 491.1h0M147.9 483.9h0M162 481.3h0M166.2 499.1h0M162.8 462.5h0M146.9 469.4h0M168.9 460.2h0M168.3 457.4h0M150.1 455.1h0M151.9 466.9h0M155.3 498.7h0M162.8 447.8h0M153.1 458.2h0M142.3 483.8h0M164.9 444.8h0M152.7 456.3h0M156.7 508.8h0M173 480.5h0M136.8 487.4h0M166.2 490.5h0M161.1 479.3h0M164 446.4h0M137.9 476h0M161.1 503.3h0M152.2 468.1h0M156.3 502h0M148.5 479h0M147 448.8h0M156.5 491.8h0M142.5 484.1h0M151.4 487h0M170.6 447.6h0M161.4 506.5h0M157 507.6h0M151.2 475h0M170.5 446.5h0M147.5 482.2h0M163.6 448.5h0M149.7 478.9h0M162.4 454h0M145.1 496.1h0M137.6 477.4h0M146.6 440.4h0M156.5 504.6h0M146.6 437.3h0M164.5 503.8h0M166.8 497.1h0M170 479.5h0M154.3 480.4h0M160.3 506.7h0M156 502.1h0M144.5 450.7h0M163.3 491.3h0M159.3 500.8h0M144.4 439.7h0M147.2 474.5h0M160.4 454.4h0M161.9 469.9h0M166.7 462h0M145.9 453.2h0M174.5 488.7h0M160.1 496.7h0M150.5 491.5h0M153.5 505.2h0M169.3 475.2h0M160.7 494.6h0M142.4 453.4h0M154.2 492.5h0M163 462.1h0M151.6 503.4h0M176.1 486.6h0M173.1 485h0M159.1 500.1h0M162.1 437.6h0M163.6 497.4h0M145 451.1h0M156.9 507.9h0M156.8 508.5h0M166.2 498.1h0M168.6 493.3h0M160.9 469.5h0M144.7 498h0M151 482.2h0M171.7 443.3h0M153.5 477.6h0M173.2 492.4h0M152.5 478.5h0M153.6 496.9h0M174.4 447.9h0M150.5 437.6h0M168.9 440.5h0M149.8 468.4h0M159.9 490.3h0M143.5 454.7h0M173.3 466.4h0M167.5 477.9h0M156.8 508.8h0M155.9 508.6h0M149.8 502h0M149.6 476.3h0M145.9 497.1h0M167.1 480.3h0M143.1 441.6h0M149.6 461.8h0M171.5 450.6h0M166 443.2h0M171.2 460.7h0M156.3 498.3h0M153.7 492.4h0M152.3 467.8h0M176.3 472.5h0M174.1 458.7h0M162.4 473.5h0M166.5 466.8h0M144.8 494.8h0M172.8 491.3h0M159 500.9h0M141.1 490.2h0M142.5 449.2h0M151.6 474.6h0M147 495.7h0M169.6 463.1h0M167.6 495.2h0M150.7 456.2h0M173 469.3h0M142.9 462.9h0M172 445.3h0M147.7 452.1h0M142.6 478.7h0M157.6 508.4h0M140.3 490.1h0M157.1 501.6h0M152.7 506.6h0M154 497.2h0M175.5 473.9h0M175.4 476.2h0M149.4 492.7h0M169.4 458.6h0M159.6 481.8h0M171.8 469.4h0M158 487.7h0M150.7 458.2h0M156.1 508.7h0M141.4 481.4h0M144.7 452.1h0M144.1 483.3h0M164.9 497.6h0M146.2 485h0M172.6 453.4h0M145.3 458.3h0M160.8 448.8h0M174.2 471.6h0M160.1 499.1h0M157.9 490.4h0M142.9 455.5h0M139.9 473.6h0M153.7 476.9h0M162.5 467.9h0M167.1 460.5h0M173.8 489.3h0M167.6 481.6h0M152.2 500.4h0M160.4 460.6h0M158 485.9h0M166.6 499.1h0M144.2 448.6h0M168.8 448.7h0M144.6 496.1h0M154.1 492.9h0M143.9 441.5h0M153.8 479.5h0M154.3 483.1h0M163.4 486.9h0M142 462h0M141.7 468h0M162 456.9h0M141.2 487.8h0M138.2 476.2h0M139.8 489.3h0M161.9 447.6h0M166 469.2h0M175.8 450.6h0M164 499h0M173.4 484h0M165.4 473.8h0M170.7 482.5h0M170.2 482.3h0M144 450.8h0M147.6 459.5h0M162.4 444.4h0M154.1 500.4h0M160.3 500.3h0M172.4 445.1h0M155.7 504.9h0M173.5 461.1h0M165.9 455.8h0M164.1 459.3h0M166.9 500.6h0M169.2 483.9h0M142.8 439.7h0M163.1 504.2h0M155 481.6h0M149.3 449.4h0M144.8 479.2h0M168 488.8h0M143.5 470.1h0M150.3 498.2h0M156.9 494.7h0M170 475.2h0M173.3 455.2h0M173.5 470.1h0M151.6 502.8h0M165.9 440.7h0M143.2 466h0M161.4 504.4h0M149.3 466.4h0M164.3 499h0M151.8 460.5h0M155.7 497.2h0M157.1 507.7h0M148.3 442.3h0M164.7 440.9h0M151.3 504.2h0M175.4 459.8h0M147.3 464.3h0M166.1 439.7h0M139.2 477.2h0M166.9 491.6h0M152.9 453.3h0M169.5 490.2h0M158.8 472.3h0M174.2 474.6h0M164.4 442.1h0M157.1 492.7h0M158.9 497.2h0M142.8 446.4h0M156.4 508.5h0M168 480.6h0M160.4 501.4h0M166.2 449.6h0M148.3 452.7h0M141.3 452.7h0M148.4 463.4h0M167.7 454.4h0M150.4 460.3h0M148.6 444.2h0M151.3 452.6h0M145.4 469.9h0M173.6 451.2h0M162.8 447h0M174.7 465.4h0M148.5 466.4h0M155.1 502.5h0M158.1 482.1h0M174.8 466.6h0M139.7 463.6h0M143.4 449.5h0M146.1 465.6h0M164.4 455h0M167.3 470.5h0M150 451.8h0M143.7 484.5h0M150.3 440.9h0M145.7 488.4h0M167.8 495.1h0M145.9 451.9h0M171 439.3h0M165.6 446.9h0M152.7 491.7h0M166.5 501.7h0M168.5 486.6h0M141.2 475h0M173.6 484.8h0M137.5 481.5h0M154.6 506.6h0M163 438.7h0M148.9 468.1h0M148.4 467.8h0M169.6 469.6h0M155.8 504.9h0M160 488.8h0M172.6 491.3h0M140.3 485.2h0M149 501.7h0M148 497.2h0M144.8 448.7h0M149.7 447.7h0M164.3 490.2h0M172.4 464.8h0M166.6 497.8h0M163.4 440.1h0M158.8 478.8h0M148 444.7h0M168.2 439.4h0M173.9 464.5h0M160.4 465.3h0M163.1 504.4h0M148.6 442.5h0M165.8 490.6h0M176.1 460.6h0M165.3 467.4h0M169 444.7h0M156 503.2h0M164.4 484.3h0M157.2 499.3h0M152.6 503h0M153.5 479.6h0M156.5 508.1h0M167.4 448.3h0M155.1 494h0M163.7 438.3h0M174.3 441.8h0M146.2 485.6h0M153 485.6h0M171.9 468.7h0M160.6 483.7h0M151.8 483.3h0M174.9 465.1h0M166.9 441.9h0M168.2 456.6h0M164.8 495.8h0M167.9 470.9h0M140.9 464.4h0M163.9 479.9h0M171.9 444.3h0M168 486.1h0M148.7 470h0M156.8 505.6h0M143.9 449.3h0M146.6 491.9h0M148.7 487.6h0M160.3 456.7h0M161.9 454.3h0M156.8 506h0M142.4 494.9h0M161.3 469.4h0M161.1 490.8h0M164.7 473.2h0M143.2 486.7h0M162.1 490.6h0M164.8 443.7h0M161.3 499.7h0M164.7 447.9h0M152 506.2h0M146.9 467.8h0M168.5 466.4h0M158.3 507.7h0M136.7 486.8h0M143 496.1h0M142.9 447.1h0M171.9 485.6h0M152.2 465h0M154.4 502.1h0M145.1 461h0M171.5 487.2h0M171.2 447.7h0M147.8 471.1h0M157 493.1h0M145.3 450.2h0M151.8 454h0M144.8 448.6h0M167.8 472.4h0M142.4 451.8h0M150.5 498h0M154.1 507.2h0M151.6 501.2h0M167.8 470.7h0M163.9 502.7h0M142.9 447.9h0M149.1 444.7h0M148.7 478.6h0M145.8 482.8h0M143.2 443.2h0M163.8 460h0M150.6 446.5h0M156.2 503.8h0M167 486.2h0M150.6 504.5h0M167.7 456.3h0M150.9 497.2h0M156.2 508.3h0M153.3 463.9h0M163.5 444.7h0M173.2 467.1h0M141.2 467h0M169.1 477.6h0M170.6 461.4h0M164 445.6h0M149.5 441.9h0M151 458.9h0M166.7 456.9h0M172.8 457.9h0M145.7 479.4h0M137.4 486.3h0M151.9 472.4h0M172 439.9h0M150.2 496.6h0M152.5 497.5h0M158.2 507.8h0M169.3 437.4h0M165.1 468.5h0M148.8 452.3h0M142.1 448.4h0M168.7 437.8h0M167.8 456.9h0M145.5 464.5h0M166.9 479h0M152.1 495.5h0M140.6 459.5h0M149.6 440.4h0M145.3 496.4h0M154 485.6h0M156.4 508.7h0M158.1 507.9h0M169.3 494.4h0M164.5 493.8h0M162.6 470.7h0M169.3 473.5h0M149.4 488.6h0M161.8 489.6h0M143.7 438.9h0M169.1 442.4h0M144.1 478.7h0M142.9 450.6h0M166.8 444h0M151.4 453.8h0M145.1 485.5h0M162.8 439.8h0M162.4 447.6h0M164 466.4h0M149.1 440h0M160.8 504.8h0M142.5 491.1h0M145.8 456h0M150.4 443.7h0M151.3 460.3h0M172.1 452.2h0M143.2 448h0M149.5 465.5h0M142.5 444.8h0M158.4 493.8h0M154.9 480.5h0M169.9 472.9h0M154.4 507.9h0M161.2 456.6h0M158.2 501.8h0M152.7 450.2h0M170.1 470.4h0M155 508.2h0M147.9 445.9h0M161.1 500.1h0M172.5 481h0M155.4 495.3h0M175.8 477.8h0M151.8 475.1h0M148.6 469.1h0M162.6 471.6h0M154.8 507.2h0M157.2 504.3h0M155.1 508.3h0M171 470.4h0M172.2 452.1h0M152.9 502.1h0M159.5 495.4h0M165.5 484.8h0M160.9 481.2h0M163.6 469h0M174.9 485.5h0M151.1 479.5h0M152.9 470.9h0M153.3 467h0M161.2 447.3h0M151.6 460.9h0M155.2 499.4h0M146.2 480.2h0M161.6 504h0M154.1 482.7h0M166.6 491.3h0M147.9 443.3h0M153.1 471.6h0M160.7 497.6h0M154.4 493.1h0M142.2 447.2h0M147.7 483.6h0M149 473.4h0M154.1 478.7h0M144.4 461.5h0M159.5 501.5h0M161.5 489.3h0M147.4 491.6h0M165.6 501.5h0M151.7 453.3h0M156.3 500.2h0M146.9 453.7h0M163.7 488.9h0M138.6 474.7h0M173.8 455.1h0M161.9 454.2h0M174.4 488.2h0M145 481.1h0M148.1 500.4h0M157.7 494.6h0M144.2 489.3h0M160.4 494h0M156.3 508.6h0M175.8 486.8h0M155.5 507h0M170.3 486.2h0M148 447.3h0M149.8 471.7h0M174.1 472.1h0M150.6 477.8h0M170.1 494.2h0M174.9 478.8h0M139.3 469.3h0M160 471.7h0M151.6 455.2h0M157.8 507.9h0M161.6 452.1h0M163.5 487.6h0M151.3 493.7h0M139.9 488.9h0M142.2 455.2h0M174.1 484.2h0M142.9 465.4h0M154.4 507.5h0M144 449h0M162.1 449.2h0M159.6 468.6h0M172.8 491h0M166.9 450h0M140.9 467.6h0M169.3 440.5h0M169.9 457.7h0M171.3 442.9h0M152.9 465.1h0M175.2 467.4h0M160.8 506.3h0M160.7 496.3h0M156.3 508.7h0M154 507h0M139.3 480.7h0M156.5 507.6h0M173.2 446.3h0M154.1 505.5h0M169.7 464.8h0M151.4 459.9h0M140.3 467.1h0M158.8 489.7h0M156.3 496.4h0M139.5 477.3h0M139.9 488.1h0M153.9 490.8h0M149.8 493.2h0M140.7 476.4h0M174.2 483.4h0M147.2 446.3h0M147.3 450.2h0M142.9 442.7h0M148.8 494.3h0M145.7 478.9h0M164.1 456.2h0M149.7 494.8h0M144 443.2h0M143.8 444.9h0M161.8 501.2h0M147 438.8h0M161.1 447.7h0M146.6 442.3h0M145.2 462.6h0M175.3 437.8h0M145.1 469h0M162.3 473.3h0M145.4 461.9h0M151.7 452.3h0M165.6 470.2h0M140.3 475h0M174.7 461.1h0M160.4 490.5h0M142.9 478h0M174.3 454h0M149.6 444.5h0M149.3 468.5h0M147.3 492.4h0M169.4 459.5h0M141.7 450.9h0M175.6 459.2h0M151.1 442.5h0M146.3 481.7h0M144.2 485.6h0M173.6 478.3h0M172.6 472h0M145.3 465h0M144.8 462.2h0M161.7 480.2h0M148.9 487.1h0M141.7 459.4h0M154.2 472h0M150.9 447.2h0M163.1 501.4h0M156.9 498.4h0M164.5 466.8h0M147.4 440.4h0M165.1 497.8h0M165.3 498.2h0M149.6 483.9h0M154.5 497.2h0M153.9 468.1h0M159.1 506h0M147.9 441.9h0M150.4 503.4h0M168.1 452.7h0M143.9 497.5h0M138.3 479.5h0M144.3 467.4h0M143.7 472.5h0M148.4 478.8h0M143.8 485.4h0M141.2 491.3h0M145.7 497.9h0M143.1 462.5h0M163.8 446.2h0M157.4 506.7h0M143 457h0M153.8 507.7h0M155.9 507.2h0M173.8 449.7h0M171.5 446.5h0M158.1 507.9h0M172.4 461.9h0M173.5 453.7h0M142.8 443.3h0M155.1 500.6h0M164.4 503.5h0M172.9 482.3h0M142.3 494.9h0M168.1 450.5h0M174.5 448.2h0M153.4 473.5h0M146 465.1h0M142.1 456.4h0M158.7 479.3h0M142.6 462.9h0M140.9 487.6h0M142.6 451.1h0M148.6 454.8h0M160 467.1h0M159.3 499.2h0M158.9 503.2h0M147.3 437.9h0M153 485.6h0M160.8 461.4h0M160.3 490.1h0M142.3 466h0M169.1 466.5h0M168.6 467.3h0M166.4 498.3h0M149.6 452.9h0M163 492.2h0M161.7 450h0M145 453.3h0M163.2 469.2h0M148.4 480.3h0M151.9 506.4h0M162.7 438.9h0M165.7 498.3h0M147.7 458.7h0M145.7 440.1h0M160.5 505.6h0M163.4 449h0M155 474.9h0M143.9 484.5h0M167.9 486.5h0M156.9 500.8h0M168.3 468.6h0M148.4 455h0M146 472.5h0M146.5 489.8h0M158.2 494.2h0M153.1 476.7h0M175 462.4h0M163.3 440.8h0M151.7 501h0M155.8 492.8h0M155.9 506.6h0M155.1 495.9h0M156 503.8h0M161.8 494.4h0M167.4 458.2h0M170.2 493h0M161.4 504.8h0M160.3 494.6h0M142.2 473.4h0M148.9 461.2h0M172.8 468.1h0M154.2 474.8h0M142.8 444.7h0M171.6 480.6h0M157.2 495h0M154.2 503h0M147 441.7h0M159.1 506.1h0M164.6 472h0M169.1 457.2h0M168.5 442h0M175.5 471.1h0M147.4 466.8h0M160.1 491.8h0M161.9 505.5h0M163.8 458.9h0M161.6 458.6h0M144.7 445.8h0M144.6 456h0M145.1 486.1h0M165.7 446.9h0M143 495.7h0M148.6 474.7h0M170 442.1h0M146.7 490.3h0M149.5 492.3h0M167.6 481.2h0M141.4 476.2h0M143.1 483h0M173.7 451.8h0M174.3 464.9h0M141.7 448.6h0M163.9 453.2h0M155.5 496.8h0M159.6 460.6h0M165.6 467.9h0M164.2 477.8h0M147.4 457.8h0M167.1 444.7h0M141.3 493h0M169.6 448.3h0M161.1 475.1h0M143.3 438.6h0M146.2 447.6h0M146.7 445.2h0M171 489.4h0M166.7 470.5h0M145.6 438.3h0M172.3 489.2h0M144.8 470.5h0M151.9 506.4h0M165.8 438.4h0M164.8 443.5h0M144.3 480h0M146.5 446.3h0M151.6 449.4h0M142.7 469.8h0M163.9 503.9h0M175.9 451.3h0M149 451.4h0M148.8 470.1h0M149.3 439.7h0M149.1 440.6h0M137.7 489.7h0M167.7 470.5h0M139.7 489.2h0M141.3 451.7h0M168.2 481.5h0M152 492.8h0M160.2 481.4h0M174.6 462.8h0M159.6 468.9h0M160.2 505h0M173.2 490.1h0M172.6 440.9h0M145 448.8h0M145.7 446.1h0M173.3 452h0M150.1 437.5h0M147.1 471.3h0M143.6 448h0M172.4 457.6h0M167.1 472.5h0M140.7 482.6h0M171.3 490.7h0M149.6 470.9h0M152.2 503.8h0M173.9 487.3h0M159.5 473h0M155.7 508.2h0M146.1 483.4h0M149 438.1h0M168.3 466.9h0M151.4 468.6h0M163.5 463h0M142.5 466h0M158.2 507.7h0M158.6 503.7h0M144.5 447.9h0M166.6 463.5h0M140.1 461h0M157.5 508.4h0M142.4 458.3h0M169.3 482.7h0M168.5 461.2h0M155.2 506.2h0M150.4 448.9h0M160.7 453.2h0M162.6 449.4h0M138.3 476.3h0M151.8 493.6h0M163.1 502.6h0M152.4 504.3h0M169.6 480.2h0M145.4 495.3h0M164.9 494.8h0M147.2 500.7h0M169 452.4h0M147.8 450.2h0M160 501.4h0M162.3 470.4h0M176.3 463.7h0M147.3 498.7h0M162.6 488h0M164.1 448.2h0M142.2 457.3h0M150.3 499.8h0M176.2 465.7h0M151.8 457.2h0M163.2 440.1h0M162.5 503.2h0M144.7 465.7h0M169.6 465.7h0M172.6 448.2h0M156.5 503.2h0M164.3 473.1h0M168.3 458.6h0M146.1 487.1h0M141.8 459.3h0M155.9 508.7h0M152.8 464.7h0M148.9 496.1h0M156.9 507.3h0M154.6 506.5h0M162.3 491.8h0M156.1 493.2h0M142.4 460.3h0M173.9 475.4h0M141.2 464.5h0M170.5 486.1h0M157.7 508.4h0M158.3 508.1h0M149.2 479.1h0M152.8 502.9h0M175.9 484h0M159.5 470.1h0M152 467.4h0M164.9 445.5h0M172.1 450.1h0M161.9 451.5h0M155.1 503.9h0M163.7 442h0M145.2 463.1h0M143.5 439.9h0M158.9 501.2h0M165.5 441.3h0M163 464.3h0M166.9 449.4h0M151.1 466.3h0M173.6 484.3h0M150.5 499.4h0M172 438h0M173 445.8h0M164.1 487.7h0M142.1 478.4h0M162 494.3h0M160.4 453.8h0M142.1 461.6h0M163.6 460h0M170.3 470.2h0M161.8 453.3h0M147.4 495h0M153.2 455.3h0M149.6 439.6h0M153.3 495.8h0M168.8 442.5h0M153.1 481.9h0M169.2 470.3h0M172.5 478.6h0M161.8 504.7h0M165.8 449.1h0M173.1 459.2h0M152 453.8h0M150 504.3h0M151.5 505.7h0M146.7 472.6h0M141.3 457.6h0M156.6 506.4h0M151.8 494.7h0M171.8 468.2h0M156.7 508.9h0M144.7 443.1h0M160.9 505.9h0M155.1 508.2h0M163.4 449.2h0M152 471.5h0M154.1 496.1h0M140.5 470.2h0M144 481.8h0M152.5 480.3h0M157.2 495.1h0M141 474.4h0M165.7 501.3h0M160.5 477.2h0M147.8 487h0M146.9 445h0M143.4 448.7h0M169 448h0M174 475h0M142.1 479.6h0M140 479.6h0M164.6 488.9h0M150.8 441.7h0M157.6 505.8h0M151.7 503h0M152.5 493.3h0M162.6 485.8h0M159.4 475.8h0M143 444.5h0M167.6 500.5h0M150.1 447.7h0M158.2 502.3h0M173.8 439h0M154.2 468.9h0M139.2 478.4h0M151.9 486.8h0M145.3 467.7h0M163.5 467.6h0M143 467.2h0M144.7 456.3h0M159.9 492h0M164.8 488.4h0M137.4 480.4h0M138.1 475.5h0M147.1 500.3h0M154.4 507.6h0M173.4 488.5h0M140.5 478.6h0M167.4 470h0M163.5 484.8h0M161 471.2h0M146.6 457.9h0M139.2 477.4h0M147.2 443.4h0M164.4 503.7h0M150.8 471.5h0M149.4 502.6h0M151.7 457.7h0M147.9 437.5h0M169.6 489.1h0M165.8 450.2h0M141.9 493.4h0M142 461.7h0M151.8 456.7h0M143.5 491.4h0M154.7 494.7h0M153.2 490.2h0M157.5 504.9h0M163.4 483.4h0M138 489.7h0M170.6 448.8h0M144 476.1h0M171.8 465.1h0M154 485.3h0M171.6 440.4h0M166.7 476.5h0M176.2 487.7h0M164 485.6h0M166.9 470h0M144.4 488.4h0M163.8 463.5h0M164.8 495.8h0M141.8 456h0M168.3 440.5h0M161.1 480.2h0M138 475.9h0M152.6 488.2h0M166.7 475.8h0M160.1 502.8h0M144 454.1h0M169.6 457.6h0M158.8 498.8h0M169.4 470.4h0M152.2 456.8h0M159.2 498.9h0M151.1 500.4h0M163.3 488.5h0M151.4 478.2h0M149.1 474.7h0M145 467.9h0M152 491.4h0M166.4 481.4h0M170 446.7h0M176.7 487.5h0M144.3 445.8h0M150.3 486.3h0M173.3 487.9h0M168.3 448.6h0M137.7 485h0M147.3 467.8h0M162.3 504.3h0M139.2 477.2h0M156.4 492.4h0M152 493.1h0M145.4 497.7h0M162.6 487.4h0M159.5 477.3h0M156.4 502.4h0M144.3 443.3h0M148.4 443.3h0M150.4 446.8h0M153.4 463.2h0M173.1 465.9h0M173.1 445.2h0M140.9 471.9h0M162.1 468h0M151.8 502.9h0M172 442.6h0M149 441h0M140.4 489.5h0M159 474.5h0M171.9 452h0M151.3 458.2h0M144.3 483.9h0M166.8 495.5h0M154 501h0M163 475.4h0M153.6 499.8h0M153 455.3h0M175 464.2h0M173 463.7h0M167.6 437.6h0M164.8 493.9h0M152.3 492.1h0M159.6 481.6h0M149.4 490.2h0M171.2 485.3h0M159.5 482.2h0M150.4 439.4h0M141.2 466.2h0M168.4 469.7h0M166.5 468.7h0M150.8 491.4h0M155.5 489.2h0M151 464.5h0M169.1 478.7h0M168 473.7h0M153.4 480.4h0M137.9 478h0M151.7 453.7h0M163.4 443.8h0M173.8 467.8h0M151.4 495.9h0M168.3 484.9h0M158.3 492.3h0M142.4 481.1h0M143.6 493.5h0M163.6 456.9h0M163.4 477.7h0M166.9 438.9h0M153.8 503h0M160.4 453.1h0M163.7 500.3h0M170.2 454.2h0M147.7 502.5h0M165.3 447.4h0M142.1 474.6h0M167.3 490.4h0M141.5 455.3h0M166.1 459.7h0M143.2 484.2h0M145.4 455.6h0M166.4 458h0M157.6 490.9h0M150.6 483.2h0M152.5 500.3h0M145.9 499h0M172.8 443h0M154.2 505.8h0M147.4 500.8h0M142.5 466.1h0M142.5 444.9h0M145.8 491h0M143.8 453.8h0M175 444.6h0M153.4 496h0M161.6 496.7h0M149.7 451.3h0M137.2 484.4h0M140.2 491.7h0M151 500.9h0M155.3 508h0M147.2 477h0M152.4 477.9h0M161.7 460.2h0M162.4 490.9h0M151.9 445.8h0M138.5 481.4h0M162.3 440.3h0M144.1 498h0M175.2 481.6h0M140.4 470h0M157.9 500.2h0M162.1 502.2h0M143.6 485.3h0M172.6 468.4h0M162.7 505.2h0M175 461.1h0M172.4 450.8h0M160.8 472.9h0M150.6 441.4h0M175.5 473h0M149.6 460.1h0M171.1 442.9h0M146.3 453.6h0M148.6 461.6h0M158.9 508h0M167.6 441.6h0M147.8 488.8h0M145.3 444h0M142.3 476.5h0M145.3 476.5h0M166.9 473.8h0M165.6 481.2h0M146.4 494h0M159.9 500.2h0M151.2 438.1h0M145.2 443.5h0M147.2 488.6h0M150.4 442.7h0M149.4 480.3h0M147 454.1h0M144.1 448.9h0M151.4 489.5h0M138.6 471.8h0M143.8 439h0M167.4 484.6h0M171.4 464.6h0M150.6 456.3h0M163.9 444.4h0M162.7 497.4h0M166 443.9h0M143.5 463.9h0M158.3 497.3h0M169.2 460.1h0M153.7 503.8h0M172.3 444.1h0M150.8 471.2h0M165.9 443.9h0M167.6 456.6h0M170.2 467.1h0M167.7 474.4h0M170.8 454.3h0M174.4 470.1h0M173.6 446.6h0M146.7 500.3h0M173.5 484.7h0M158.4 492.2h0M173.1 478.9h0M144 443.3h0M168.3 491.8h0M161.8 491h0M160.6 454.1h0M141.8 488.5h0M176.3 486.8h0M143.3 447.7h0M153.4 463.8h0M169.2 481.3h0M161.6 476.3h0M162.4 453.5h0M167.3 477.1h0M162 439.4h0M166.2 486.5h0M145.4 448.1h0M154.1 506.7h0M166 462.3h0M146 439.1h0M151.6 502.4h0M151.2 455.2h0M146.5 479.4h0M143.4 442.6h0M150.1 447.4h0M150.3 502.3h0M167.9 452.6h0M174.7 451.7h0M148.8 472.8h0M144.7 470.7h0M167.9 461.2h0M158.4 505.3h0M168.9 489.5h0M154.3 502.2h0M152.2 465.9h0M172.9 458.4h0M148.2 471.6h0M146.2 498.2h0M145.4 450h0M156.7 500.7h0M140.9 486.3h0M165.1 452.2h0M147.7 479.3h0M151.8 504.1h0M155.4 503h0M141.2 474.9h0M144.6 480.8h0M144.4 492.6h0M143.3 438.8h0M161.1 503.5h0M169.1 443.5h0M163.9 450.5h0M167.2 494.4h0M173.4 464.2h0M140 459.9h0M149.8 489.7h0M174.6 479.6h0M153.6 505.3h0M141.4 477.6h0M167.5 491.1h0M140.6 457.4h0M154.4 484.9h0M169.8 461.9h0M156.7 508.8h0M152.3 454.2h0M143.4 458.7h0M143.9 463.1h0M170 486.3h0M152.4 506h0M148.4 475.1h0M152.3 501.2h0M166.8 451.7h0M172 449.2h0M174.8 441.1h0M151.6 499.5h0M143.1 480.4h0M164.3 452.6h0M150.8 445.9h0M152.4 504h0M156.4 503h0M172.1 444h0M146.3 476.3h0M153.6 507.6h0M171 481.9h0M163.4 448.2h0M151.4 489.2h0M147.4 467.3h0M172.2 486.3h0M152.7 457.5h0M160 468.1h0M155.4 506.4h0M147.6 479.7h0M142.5 489.7h0M161.2 494.3h0M142.2 469.1h0M170.8 488.7h0M163.7 468.4h0M164.5 500.3h0M144.4 448.6h0M155.3 500.7h0M172.7 461.5h0M174 442.3h0M158.3 499.2h0M149.4 481h0M147.8 462.8h0M162.5 473h0M147.8 446.7h0M168 461.7h0M165.2 471.7h0M166.8 454.4h0M154.7 484.8h0M157.2 506.4h0M165 438.2h0M154.4 473.6h0M138 485.4h0M152.4 454h0M139.5 476.4h0M161 457.3h0M165.9 493.2h0M170.1 467.8h0M159.5 485.1h0M163.1 442.7h0M170.2 488.4h0M140.7 492.3h0M145.1 456.2h0M158.2 481.6h0M143.8 465h0M163.8 465.9h0M153.3 463.9h0M149.9 465h0M152.3 469.6h0M164.5 500.7h0M163.1 500.1h0M153 465.2h0M166.6 455.5h0M152.8 493.8h0M167.8 481.6h0M165 447.6h0M142.4 479h0M159.8 475.2h0M172.4 457.6h0M147.9 461.2h0M154.7 505.7h0M152.7 464.7h0M148.8 448.5h0M157.5 508.6h0M153 466.1h0M157 508.8h0M161.4 473.3h0M150.7 437.3h0M159.7 507h0M141.6 491.8h0M140.8 463.5h0M175 461.4h0M164.4 498.8h0M165 480.8h0M146 450.8h0M146 438.8h0M142.6 488.5h0M145.5 439.6h0M167.9 492.5h0M173.1 492.3h0M150 497.4h0M173.1 462.2h0M167.6 445.7h0M150.4 453.6h0M149.3 475h0M148.8 461.4h0M167.8 440.4h0M159.5 498.6h0M175.4 459.7h0M167.8 486.2h0M166.3 441.5h0M176.3 471.2h0M171.6 456.9h0M171.2 448.7h0M159.6 489.9h0M141.1 494.4h0M146.7 478.2h0M145.8 437.3h0M149.5 451.2h0M160 507.4h0M158.2 505.7h0M143.2 470.9h0M164.1 496.6h0M168.4 475.4h0M168 499.2h0M152.6 472.8h0M148.6 503.4h0M150.3 469h0M150.7 495h0M150.2 498.1h0M167.6 499.2h0M160.6 490.8h0M166.2 500.2h0M153.4 497.9h0M149.7 462.8h0M146.3 473.6h0M155.5 505h0M176.1 472.1h0M176.4 486.6h0M167.1 467.7h0M163 453.6h0M147.3 458.7h0M163.3 444.8h0M161.7 448.8h0M140.4 465h0M173.3 488.8h0M170.3 472.3h0M167.3 441.4h0M147.9 445.9h0M141.2 463.4h0M141.2 481.1h0M144.6 441h0M169.4 451.2h0M171.8 486.7h0M148.4 447.8h0M146.2 450.5h0M156.9 497h0M164.1 496.4h0M175.6 478.7h0M157.4 496.2h0M173.1 483.5h0M162.9 446.2h0M169.7 475h0M163.7 489.4h0M143.2 493.4h0M142 459.9h0M146.9 450.2h0M150.6 480.7h0M143.8 466.2h0M156.7 508.8h0M172.4 454.5h0M152.1 466.9h0M142.8 483.3h0M171.7 441.4h0M165.1 471.9h0M154 467.8h0M148.5 472.6h0M167.9 494.9h0M150.9 502h0M149 460.8h0M151.1 484.4h0M148.9 478.5h0M153.9 479.7h0M147.7 456.1h0M143.1 457.5h0M144.6 438h0M145.4 465h0M145.8 453.4h0M148.6 499.4h0M172.2 479.8h0M155.5 499.3h0M175 464.9h0M152 502.6h0M146.6 476.2h0M175.1 480.2h0M146.2 488.5h0M163.8 451.9h0M160.8 453.3h0M140.6 485.7h0M164.4 461h0M176.7 483.3h0M168.6 451.2h0M138.6 478h0M152.1 506.1h0M171.9 440.9h0M142.9 460.9h0M146.9 493.4h0M150.2 488.4h0M160.5 481.2h0M142 460.4h0M164.5 463.5h0M155 497.3h0M162.4 480.6h0M165.2 443.7h0M157.9 503.6h0M171 473.7h0M163.1 466.5h0M162.8 502.4h0M160.3 463h0M141.2 477.9h0M163 477.7h0M165.3 439.5h0M172.2 458h0M159.3 479.3h0M146.2 452.5h0M162 496.3h0M148.5 484.3h0M158.4 494.1h0M148.3 447.6h0M165 442.1h0M150.7 441.1h0M145.6 500.4h0M161.8 484.8h0M170.3 488.9h0M145.2 470.6h0M175.8 481.7h0M143.3 491h0M148.2 437.4h0M140 470.6h0M163.2 480.3h0M160 500.8h0M159.9 490.8h0M144.4 491.3h0M174.6 446.3h0M165.8 488.6h0M148 444.6h0M145 476.6h0M147.3 452.7h0M149 476.8h0M164.2 490.9h0M147.4 449.8h0M163.4 503.7h0M146.6 444.6h0M170.4 473h0M138.1 487.2h0M165.3 463.9h0M160 506.4h0M167.6 493.3h0M158.6 492.8h0M169.9 455.6h0M170.1 450.8h0M164.8 454.4h0M141.4 455.5h0M146.8 458.3h0M142.4 491.5h0M154.6 499h0M163.2 460.7h0M173.4 439.6h0M166.3 480.9h0M150.9 448.2h0M142.2 456h0M167.9 455.6h0M160.1 505.5h0M140.6 465.2h0M150.5 505.1h0M167 444.9h0M148.1 438.5h0M149.2 458.3h0M169.5 442.4h0M155.3 483.3h0M174.5 483.1h0M166.8 475.9h0M163.2 491.7h0M160.2 507.2h0M149 440h0M164.4 466.5h0M145.5 442.1h0M137.2 479.9h0M165.2 457.5h0M148.7 502.3h0M161.1 477.7h0M152.4 471h0M138.5 490.3h0M175.3 441.6h0M149.5 488.1h0M171.8 487.3h0M173.4 437.9h0M139.2 479.7h0M154 507.3h0M146.6 440.3h0M161.4 444.7h0M155.1 495.6h0M157.8 499.7h0M157.5 505.6h0M152.2 471.4h0M143 448.5h0M143.4 438.5h0M157.4 505h0M160.1 460h0M148.8 468.2h0M142.6 447.8h0M158.4 487.5h0M162.6 485.9h0M157.2 504.8h0M165.5 494.6h0M147.9 489.6h0M158 507.3h0M172.8 456.7h0M156.4 508.7h0M148.1 496.6h0M170.1 482h0M168.3 471.5h0M153.1 503.9h0M156.3 504.1h0M174.4 474.7h0M171.9 463h0M162.2 480h0M160 497.1h0M162.8 463.6h0M174.1 462.8h0M167.6 448h0M149.4 451.7h0M175.7 480.8h0M139.9 470h0M164.6 497.3h0M159.5 471.9h0M169.1 497.9h0M170 441.9h0M173.1 473.6h0M152.5 502.1h0M142.5 445.2h0M142.8 454.3h0M149.6 463.6h0M141.4 452.4h0M162.8 491.4h0M167.8 468.7h0M156.4 508.2h0M156.3 495.5h0M153.7 504.3h0M159 500.7h0M171 494.5h0M150.8 437.4h0M154.3 508h0M165.9 464h0M147 488.6h0M146.7 499.6h0M147.2 474.9h0M141 454h0M175.6 486.3h0M147.3 493.3h0M172.4 475.5h0M164.7 479.3h0M162.5 501.1h0M174.6 479.5h0M157.2 504.4h0M162.5 503.6h0M173.7 454.2h0M169.5 447.8h0M148.6 452.7h0M148.3 482.9h0M157 491.9h0M160.2 486.6h0M154.7 470.9h0M159.2 495.6h0M171.9 476.8h0M143.2 470.2h0M170.1 461.7h0M150.9 499.8h0M171.2 444.7h0M161.1 478.6h0M166.8 482.9h0M160 459.2h0M145.8 492.6h0M150.3 456.4h0M165.9 440.7h0M147 452.6h0M162.9 460.4h0M149.9 458.9h0M155.6 491.1h0M161.6 462.9h0M174.9 440h0M156.5 508.9h0M149.6 439.9h0M153.2 502.8h0M143.5 441.5h0M138 479.2h0M163 454h0M164.2 459.8h0M140.2 479.2h0M161.3 493.8h0M172.4 447.3h0M167.5 493.9h0M174.4 490.9h0M151.3 500.1h0M151.8 470.4h0M168.5 465.5h0M137.4 480.4h0M163.6 492.2h0M167 468.4h0M150.7 468.5h0M162.3 502.6h0M165.6 494.8h0M139.6 476.4h0M174.3 456h0M154.9 498.1h0M162 451.3h0M164.2 467.4h0M151.1 470.7h0M159.9 484.9h0M141.9 446.1h0M153.9 464.3h0M146.8 456.8h0M170.6 495.2h0M152.7 470h0M153.2 505.3h0M166.4 498.6h0M167 455.6h0M146.6 463h0M156.1 508.2h0M162.2 448.7h0M151.9 450.5h0M162.4 498.7h0M162.2 449h0M162.6 449.2h0M151.8 445h0M158.5 481.6h0M165.6 496.1h0M140.4 471.2h0M146.5 458.5h0M161.1 496.1h0M147 452.6h0M165.8 479.8h0M171.2 453.7h0M148.5 496.3h0M147.9 502.1h0M156.6 499.8h0M142.3 475.5h0M151.4 442.8h0M165.1 475.2h0M138.4 472.2h0M169.4 484.2h0M173.1 453.8h0M169.9 458.4h0M173.3 446.8h0M171 478.1h0M148.7 448.3h0M161.5 504.1h0M157 508.8h0M159.2 483.6h0M146.7 460h0M153.9 503.3h0M151 468h0M143.2 496.9h0M163.6 499.5h0M152 498.3h0M165.3 454.5h0M159.5 499.5h0M153.9 505.2h0M141.2 462.6h0M138 476.6h0M142.6 483.9h0M162.5 496.4h0M174.2 486.2h0M150.6 488.7h0M151.1 444.5h0M152.8 464h0M162 477.9h0M170.6 477.5h0M151.6 476.9h0M158.8 479.2h0M164.3 451.8h0M172.8 488.4h0M144.4 489.7h0M165 502.5h0M158.8 506h0M159.4 503.3h0M163.3 474.3h0M172.6 475.9h0M141.8 449.6h0M142.9 468.5h0M151.6 471.1h0M167.6 500.3h0M160.5 494.5h0M157.3 502.7h0M144.2 453.7h0M144.6 497.2h0M144.3 442.7h0M147.2 497.9h0M147.1 485.5h0M160.3 502.8h0M166.6 501.2h0M142.1 475.4h0M168.5 491.6h0M169.5 489.8h0M163 501.6h0M170.1 497.1h0M147.6 499.9h0M161.7 461.3h0M161 471.9h0M162.6 462.4h0M163.9 496.4h0M150.5 477.3h0M166.5 441.1h0M170.1 477.6h0M172.3 462.9h0M162.4 489.9h0M158.9 493h0M175.5 453.3h0M160.3 459.9h0M151.4 485.8h0M166.6 440.1h0M143.4 439.1h0M143.8 457.5h0M160.3 464.7h0M170 491.5h0M166.4 467.9h0M146.4 484.8h0M158.9 503.4h0M171.7 447h0M149.6 498h0M142.5 462.1h0M147.3 462.9h0M150.5 480.4h0M151.4 487.6h0M149.4 502.1h0M153.9 503.1h0M150.7 500h0M157.3 497.8h0M162.2 452.7h0M152.1 461h0M169 480.4h0M165.7 487.2h0M161.4 488.6h0M152.2 451.6h0M175.3 454.3h0M166.7 485h0M152.3 476.6h0M139.3 480.8h0M142 452.8h0M140.3 461.7h0M144 469.5h0M165.1 437.6h0M149.7 502.1h0M154.6 473.5h0M165.7 448.7h0M169.9 466.8h0M171.1 468.2h0M153.6 482.7h0M154.2 507.8h0M145.5 480.1h0M156.3 496.6h0M174.1 491.8h0M143.3 476.4h0M144.7 494.9h0M148.3 443.1h0M161.7 505.8h0M170.1 458h0M157 508.1h0M163.4 500.8h0M156.6 507.4h0M162.3 476.6h0M150.9 485.9h0M149.3 498.4h0M175.9 457.7h0M151.1 441.7h0M151.2 485.5h0M139.7 490.7h0M148 464.9h0M155.9 505.3h0M147.8 494.6h0M149.7 445.8h0M170.7 462.3h0M153 503.1h0M142.6 485.7h0M148.5 472.9h0M174.9 462.2h0M139.7 478.8h0M140.1 488.6h0M173.1 455.9h0M150.5 468h0M154.4 502.5h0M164.2 482.4h0M172.8 448.5h0M164 446.5h0M169.2 448.1h0M159.3 490.1h0M153.4 506.4h0M140.3 460.3h0M161.7 505.2h0M165.7 456.5h0M146.4 476.9h0M175.6 453.8h0M158.3 493.6h0M162.5 457.4h0M166.1 486.9h0M143 456.4h0M168.9 439.7h0M148.2 453.7h0M160.4 470.1h0M161.1 499.1h0M144.7 450.5h0M151.7 446.8h0M158.6 474.2h0M146.3 453h0M148.7 486.2h0M141.5 452.3h0M165 446.9h0M152.1 461.8h0M161.4 469.7h0M164.6 438.3h0M145.2 442.3h0M141.2 459.8h0M171.2 473.8h0M149.4 500.6h0M150.3 441.2h0M152.9 483.1h0M141.3 491.6h0M153 463.8h0M145.6 484.1h0M147.2 501.3h0M139.2 486.9h0M153 459.3h0M140.2 476.1h0M145 484h0M165.9 463.6h0M150 457.7h0M158 495.3h0M164.6 461.2h0M144.2 439.2h0M140.9 454.2h0M160.9 499.6h0M168.3 464.8h0M162.1 456.1h0M174.5 447.1h0M157.1 508.6h0M155.7 499.9h0M154.3 503h0M144.4 451.1h0M155.3 502.7h0M166.5 477.4h0M173.2 439.3h0M166.8 495.7h0M141.7 452.7h0M151.1 469.9h0M161.1 500.6h0M162.7 464.8h0M149 468.8h0M144.4 438.2h0M155.2 506h0M171.4 474h0M162.1 466.7h0M158.5 488.8h0M149.5 466.9h0M141.2 465.2h0M147.8 475.4h0M172.3 483.3h0M152.2 473.4h0M160.8 494.2h0M151.3 451.8h0M153.9 494.4h0M141.3 479h0M167 480.1h0M151.2 505.3h0M145 458.7h0M149.4 499.5h0M148.6 503.3h0M147.7 473.2h0M151.7 455.4h0M148.5 467.2h0M171.4 495.5h0M160.4 482.2h0M162 505.8h0M153.5 489h0M144.5 498.9h0M159.8 479.9h0M157.7 508.3h0M159.4 499.4h0M152.3 454.7h0M153 503h0M154 480.8h0M161.5 482.5h0M151.1 503.9h0M172 492.1h0M174.8 472.7h0M169.6 459.7h0M142.3 450.3h0M145.9 482.7h0M163.5 460.8h0M173.4 473.6h0M166.2 465.5h0M166.3 489.1h0M165.7 473h0M141.2 459.9h0M150.8 444.4h0M168.2 484.4h0M173.4 485.3h0M172.8 444.7h0M163.3 490.2h0M142.3 488.2h0M154 493.5h0M164.9 489.5h0M168.8 476.7h0M164.2 453.8h0M144 470.9h0M151 462.2h0M169.4 493.9h0M138.3 486.6h0M156.3 507.2h0M151.6 501.9h0M167.8 492h0M155.1 505.2h0M172.7 477.6h0M142.4 483h0M174.4 442.4h0M144.7 448.5h0M150.4 437.9h0M143.2 445.3h0M164.5 487.5h0M147.2 495h0M166.1 445.6h0M143.4 450.7h0M171.1 452.8h0M163.8 441h0M156.1 500.7h0M140.3 492.1h0M161.4 479h0M166.2 501.2h0M142.6 457.6h0M161.1 469.5h0M151.2 471h0M176.5 487.5h0M148.9 454.1h0M175.6 488.9h0M154.7 505.6h0M165.4 473.2h0M175.2 467.2h0M162.8 493.4h0M146 440.2h0M140.5 478.8h0M154.3 477.2h0M139.9 485.1h0M152.6 450.2h0M148.8 490.8h0M172.6 448.2h0M163.9 472.6h0M164.4 466.1h0M151.2 452.2h0M161.1 505.1h0M167.7 450.5h0M175 488.6h0M170.3 455.8h0M146.3 489.7h0M144.9 439.4h0M158 501.8h0M143 475.4h0M165.6 452.2h0M146.8 438.3h0M147.9 451.5h0M139.7 480.1h0M173.5 467.4h0M150.7 441.3h0M140.6 479.2h0M140.3 469.3h0M153.1 482.3h0M154 502.1h0M172.1 494h0M176.6 477.2h0M143.7 454.5h0M143.9 437.8h0M156.4 502.3h0M158.7 506.6h0M169 461.6h0M167.1 450.5h0M172.6 470.7h0M155.9 498.7h0M161.9 493h0M162.9 438.8h0M148.5 442.3h0M145.6 437.8h0M143.2 458.9h0M144.3 467.2h0M144.6 453h0M163.6 474.7h0M176.2 485.2h0M163.1 490.4h0M173.9 449.1h0M153.9 464.2h0M150.5 443.7h0M169.5 439.3h0M146 464.9h0M165.1 488.4h0M164.8 462h0M161 481h0M146.3 457.9h0M169.4 465.3h0M151.6 441.9h0M173.4 493.1h0M155 503.8h0M168.5 449.5h0M149 485.1h0M148.5 447.5h0M148.9 467.3h0M143.9 489.9h0M168.2 438.8h0M137.8 480.6h0M145.4 489.8h0M172.2 491.9h0M163.6 438.1h0M165.9 457.6h0M139.6 489.2h0M160.7 505.4h0M155.1 502.2h0M147.1 449.6h0M163 504.6h0M159.1 478.5h0M174.6 443.3h0M146.6 444.4h0M175.1 459.5h0M168.3 480h0M167.1 442.8h0M172.8 460h0M175.7 452.3h0M153 506.7h0M145 495.4h0M148.4 439.5h0M148.3 451.7h0M149.3 461.2h0M148.5 481.6h0M152 499.4h0M146.7 480.9h0M162.5 487.7h0M144.3 453.2h0M139 481.4h0M145.8 438.9h0M169.5 438.2h0M141 462.4h0M176.7 486.4h0M153.8 493.6h0M140.3 490h0M163.3 501.4h0M143.9 449.3h0M164.3 463.1h0M143.7 442.3h0M170.5 490.2h0M164.1 452h0M147.2 450.1h0M168.8 466.7h0M163.5 487.4h0M162.5 473.1h0M164.8 498.3h0M139.5 487.8h0M152.3 482.9h0M175.4 481.2h0M142.2 480.5h0M151.7 490h0M143.4 446.1h0M160.4 506.2h0M168.4 465.8h0M172 450.5h0M156.4 498.9h0M169.3 452h0M165.5 449.1h0M162.6 463.9h0M142.9 450.3h0M148 439.1h0M169.5 472.8h0M154.8 481.3h0M156.7 507.1h0M174.1 474h0M151.8 449.6h0M157.1 495.1h0M162.9 464.7h0M153.8 483.8h0M159.8 464.9h0M150.4 445.4h0M143.3 443.1h0M175.9 473.8h0M152.8 505.1h0M168.3 438.5h0M160.2 495.2h0M149 454.2h0M170.9 446.4h0M144.1 461.6h0M138.1 482.4h0M163 480.5h0M151.6 473h0M147.2 465.8h0M160.3 488.6h0M156.9 508.9h0M164.4 446.7h0M154.5 488.1h0M155.7 499.7h0M172.9 479.3h0M154.5 503.2h0M145.6 498.4h0M161.7 505.5h0M157 508.8h0M149.4 444.7h0M158.9 498.7h0M151.9 506.3h0M147.4 437.7h0M149.3 497.1h0M140.3 477.4h0M142.1 456.4h0M157.9 491.7h0M164.2 453.6h0M142.5 492h0M154.1 506.7h0M171.4 443.3h0M169.4 495h0M159.3 507.4h0M167.8 443.3h0M149.9 447.9h0M165 477.1h0M156.7 499h0M156.9 504.5h0M160.9 488.2h0M143.5 446h0M166.9 459.9h0M145 486.6h0M158.8 502.9h0M140.2 491.4h0M169.5 449h0M144.2 448.3h0M146.1 440.2h0M160.3 504h0M154.1 503.6h0M145.8 500.5h0M169.7 473h0M163.9 481.8h0M151.1 445.7h0M169.1 486.6h0M174.1 457.1h0M143.7 457h0M153.3 506.5h0M152.3 497.7h0M146.7 467.3h0M165.8 456.7h0M172.4 483h0M159.4 485h0M160.4 506.3h0M146.1 452h0M146.6 451h0M167.1 450.7h0M151.3 501.9h0M174.6 464h0M149.8 449.9h0M147.8 455.3h0M150.3 444.4h0M139.7 461.8h0M160 490h0M146.7 486.1h0M149.1 483.1h0M166.2 500.3h0M141.2 479.5h0M170.5 443h0M150.8 502.9h0M160.7 475.1h0M172.2 467h0M170.3 448.1h0M152.9 504.5h0M164.2 440.8h0M169.6 493.4h0M168.1 467.1h0M147.2 439.2h0M172.3 440.7h0M161.4 504.7h0M163.8 502.5h0M150.4 474.7h0M152.5 504.9h0M171.7 472.5h0M151.4 476.7h0M145 492.4h0M154.5 506.9h0M165.1 500.5h0M145.6 454.1h0M145.9 479.6h0M148 463.9h0M170.4 438.1h0M176.4 471h0M141.7 481h0M158.1 504.7h0M169.5 485.1h0M176.2 477.1h0M161.8 455.8h0M174.1 488.8h0M160.2 498.4h0M147.9 467.4h0M168.1 478.3h0M174.7 452.6h0M142.1 484.9h0M174.6 490.9h0M142.3 451.7h0M161.7 493.8h0M142.4 486.2h0M151.5 503.2h0M173 493.3h0M173.8 491.5h0M143.7 473.4h0M161.8 474.2h0M149.9 455.8h0M164.9 500.9h0M163.3 472.4h0M162.7 466h0M167.4 482.3h0M148.7 448.6h0M149.2 464.4h0M158.5 506.4h0M152.4 506.2h0M149.6 473h0M144.8 453.7h0M172.1 457.5h0M144 445.5h0M145.1 444.5h0M156.7 508.3h0M172.1 439.5h0M148.9 444h0M143.6 461.8h0M171.4 453h0M156.9 508.9h0M149.7 475.5h0M160.3 465.7h0M141.2 494.9h0M169.1 439.1h0M143.1 446.5h0M171.2 438.6h0M153.5 495.1h0M154.6 507.3h0M166.3 462.3h0M141.7 477.1h0M151 440.9h0M172.7 449.2h0M165.9 477h0M170.4 484.3h0M172.8 453.1h0M152.6 481.7h0M149.1 456h0M164.9 502.7h0M166.9 453h0M152.4 457.3h0M168.9 459.7h0M164.9 502.2h0M160 457.8h0M163.8 487.3h0M147.7 461.5h0M166.7 448.3h0M142 465.1h0M143.1 473.4h0M167 486.9h0M173.1 460.7h0M174.6 440.4h0M171.8 469.3h0M152.6 506.8h0M138.4 475.3h0M145.7 481.1h0M166 453.5h0M139.8 461.5h0M168.2 486.4h0M165.1 478.8h0M173.2 484.1h0M170.1 444.9h0M167.4 446.8h0M158.3 489.9h0M149.1 493.3h0M147.6 500.9h0M152.9 477.2h0M163.7 496.7h0M140.9 491.7h0M148.3 446.3h0M155.8 505.9h0M156.4 496.6h0M151.3 452.8h0M153.7 490.5h0M171.2 474.1h0M146.9 437.5h0M147.9 463.1h0M146.3 451.9h0M171.4 493.2h0M166.8 448.5h0M147.9 477.8h0M157 493.3h0M143.5 482.4h0M172.5 464h0M143.5 475.3h0M137.5 477.2h0M155.7 503.1h0M154.1 483.4h0M170 462.6h0M166.7 490.6h0M151 482.9h0M146.3 456.5h0M160.9 483.3h0M168.7 486.2h0M161.5 504.7h0M150.7 451.2h0M166.5 442.8h0M162.5 486.7h0M161.7 497.5h0M160.3 474h0M159.5 467.2h0M171.3 456.4h0M146.8 457.1h0M153.3 497.8h0M149.8 467.2h0M167.5 473.9h0M164 443.1h0M144 464.9h0M156.3 500.2h0M158 500.1h0M173.4 451.4h0M148.1 480.6h0M171.7 466.3h0M141.1 467.6h0M166.9 479.7h0M165.4 453.6h0M162.3 500.1h0M160.3 460.1h0M146.8 483.2h0M163.2 452.8h0M144.1 447.8h0M167 455.8h0M168.7 491.4h0M148.7 440.4h0M141.5 450.2h0M144.7 498.3h0M171 465.5h0M143.4 445.3h0M162.8 442.7h0M145.7 483.7h0M172.8 453.3h0M170.9 437.4h0M170.6 455.7h0M144.6 460.3h0M166.3 468.8h0M149.5 503.9h0M148.3 482.8h0M151.9 457.2h0M145.7 461h0M145.6 449.2h0M149.2 466.4h0M166.6 441.3h0M167.3 486.7h0M173.5 459.7h0M157.9 508.1h0M170.4 480.8h0M159.8 462.2h0M152.5 503h0M164 462.3h0M141.4 472.1h0M149.9 503.5h0M158 493h0M161.5 504.1h0M162.5 470.6h0M145.9 465.5h0M148.6 439.5h0M167.5 493.5h0M162.1 439.8h0M172.9 449.1h0M144 464.6h0M170.9 459.7h0M165.7 500.6h0M159.1 468.1h0M165.4 465.1h0M155.8 508.1h0M145.9 440.8h0M144.3 473.6h0M166.6 490.9h0M163.8 438.1h0M175.7 471.9h0M154.7 506.7h0M143.7 454.5h0M170.9 468.4h0M145 455.3h0M153.5 483.6h0M170.4 493.8h0M153.5 501.2h0M146.8 447.9h0M143.9 495.5h0M166.1 455.7h0M163.7 439.3h0M141.2 456.5h0M154.1 475.3h0M145.6 452.1h0M138.3 482.1h0M163.4 438.8h0M166.8 442.5h0M151.3 471.5h0M159.1 504.8h0M164.9 469.3h0M140.7 465.1h0M172.5 483.8h0M150 437.5h0M156.8 508.1h0M151.2 465.8h0M141.5 488.9h0M160 503.6h0M148.1 499.6h0M150 489.5h0M175.8 470.3h0M153.6 496.6h0M161.7 482.1h0M159.3 506h0M175.6 475.9h0M174.3 453.1h0M154.7 482.5h0M152.2 446h0M161 470.6h0M145.7 457.1h0M150.4 455.2h0M147.6 469.5h0M160.3 476.3h0M151 464.9h0M175.9 474.5h0M171.5 464.4h0M144.6 497.8h0M145.3 479.8h0M175 446.5h0M145.6 455.2h0M163.2 460h0M154.5 492.7h0M173.3 490.8h0M158.2 507.9h0M144.3 468.4h0M149.6 439.3h0M147.5 486.6h0M142.2 465h0M156.4 506.5h0M158.6 495.4h0M173.4 442.1h0M143.1 460.2h0M166.5 493.2h0M144.5 437.8h0M165.7 502.2h0M137.5 488.5h0M142.2 481.6h0M149 467.6h0M159 481.1h0M168.9 494.6h0M155.5 498.7h0M162.3 504.6h0M162.3 451.3h0M140 464.1h0M175.4 457h0M171.6 472.7h0M176.4 471.7h0M141.2 469.8h0M173.1 481.3h0M151.1 478.2h0M171.7 494h0M169.3 474.7h0M148.8 469.8h0M152 502h0M169.4 495.7h0M163.1 492.6h0M161.4 460.8h0M143.4 463h0M150.8 463.5h0M169.9 463.1h0M149.2 442.1h0M161.7 489.8h0M170.1 470.3h0M162.3 481.8h0M147.4 456.1h0M165.6 481.8h0M148.2 472.2h0M160.1 458.9h0M168.6 438.1h0M157 505h0M166.3 474.8h0M143.7 476.5h0M147.7 440h0M166.4 494.9h0M153.4 494.8h0M162.4 485.4h0M153.2 505h0M150 478h0M165.7 441.1h0M143.5 485.7h0M152.1 501.2h0M143.3 477.4h0M158.5 496.2h0M148.7 501.1h0M163.7 503.7h0M150.3 500.2h0M169.6 473.3h0M164.9 488.1h0M153 473.2h0M176.1 463h0M141.9 466.1h0M169.5 462h0M174.3 462.7h0M156.9 508h0M153.2 473h0M157.9 504.3h0M141.7 470.2h0M159.8 466h0M165.3 502.1h0M140.8 466.6h0M166.5 470.8h0M144.1 492h0M155.8 506.8h0M147.1 475h0M154.2 489.5h0M161.7 443h0M143.2 497h0M145.1 467.9h0M153.6 505h0M170.1 444.6h0M174.9 455.8h0M150.4 497.2h0M175.4 449.6h0M150.2 450.6h0M149 461.2h0M143.9 446.5h0M162.7 467.6h0M151.8 468.8h0M140.6 479.1h0M175.1 473.4h0M141.5 474.6h0M157.2 504.4h0M169.9 490.5h0M151.7 462.9h0M162.4 449.8h0M173.5 478.5h0M163 439.4h0M161.7 504.5h0M153.6 483h0M163.4 504.2h0M142.3 477.6h0M162.7 499.1h0M140.1 481h0M165.6 476.5h0M145.6 445.4h0M161.8 497.6h0M154.2 478.6h0M152.5 464.4h0M167.7 439.5h0M150.1 438.4h0M161.5 471.1h0M160.7 495.9h0M159 490.7h0M145.4 466.3h0M146.7 476h0M173.6 485.6h0M161 499.7h0M170.8 440.3h0M161.8 504.4h0M163.8 440.9h0M175.2 462.2h0M145.2 481.2h0M163.5 455.5h0M145.4 449h0M162.2 485.5h0M148.2 500.1h0M166.5 458.6h0M145.2 440.9h0M144.2 465.5h0M162.3 446.9h0M153.8 499.1h0M155.3 494.2h0M172.9 493.2h0M151.2 505.3h0M141.9 482h0M152.9 452.9h0M165.4 450.4h0M152.6 455.2h0M167.3 453.3h0M169.4 478.2h0M146.3 475.8h0M141.3 451.7h0M148.9 474.8h0M146.9 483.3h0M148.7 464.3h0M159.3 486.2h0M146.3 445.3h0M176.5 473.1h0M161.3 495.3h0M173.8 454.1h0M141.6 481h0M146.1 450.3h0M166.2 492.4h0M164.5 500.6h0M143.2 437.7h0M174.3 487.3h0M140.7 470.4h0M144.2 460.8h0M144.3 495.8h0M144.6 439.1h0M149.9 438.3h0M175.9 483.3h0M148.1 445.1h0M142.2 456.3h0M164.9 454.9h0M171.4 471.2h0M147.8 496.1h0M155.2 508.1h0M145.9 463h0M146.5 464h0M174.6 459.7h0M143.3 478h0M151 488.3h0M157.7 493.8h0M160.8 453h0M155.9 498.1h0M138.2 484.6h0M173.2 451.6h0M153.7 474.9h0M168.6 440.2h0M169.4 465.9h0M146.9 444.6h0M163.1 494.2h0M163.3 500.5h0M144.5 444.6h0M143.6 467.4h0M171 470.2h0M138.2 474h0M163.3 469.1h0M153.8 507.6h0M152.6 448.3h0M171 448.1h0M153.9 493.6h0M156.4 507.4h0M152.7 480.5h0M151.1 505.3h0M142.8 488.2h0M170.7 453.1h0M143.8 469.4h0M139.5 480.9h0M140.1 472.6h0M137.4 482.5h0M169.6 469.4h0M164.9 450.4h0M169.3 484.9h0M168 441.1h0M143.2 468.2h0M173.3 481.6h0M158.9 501.1h0M147.8 468.3h0M174.3 480.5h0M154.8 508h0M173.9 447h0M147.1 441.1h0M149.3 495.1h0M172.5 478.6h0M153.3 482.7h0M159.8 506.2h0M160.6 483.7h0M142.2 458.5h0M145.2 461.9h0M143.5 476.7h0M174.5 440.5h0M150.2 437.6h0M144 439.4h0M171.4 491.4h0M150.5 500.1h0M138.4 479.2h0M142.8 491.3h0M144.7 444h0M152.2 447.5h0M165.3 456.1h0M142.6 443.9h0M148.4 488.7h0M170.5 468.1h0M148.9 471.7h0M155.5 496.7h0M137.3 487.4h0M144 496h0M165.1 502.9h0M143.6 454.4h0M145.9 500h0M141.9 448.7h0M139.3 469.8h0M144.7 494.8h0M143.9 497.9h0M147.2 467.6h0M161.7 476.9h0M171.7 449.3h0M162.2 504.3h0M146.8 500.6h0M153.8 492.8h0M160.5 497.6h0M148.9 478.1h0M152.8 504.6h0M166.7 492h0M149.3 441.4h0M169.3 437.6h0M171.9 439.1h0M172.9 464.3h0M146.2 477.3h0M166.5 446.7h0M168 489.9h0M152.7 498.8h0M164.4 503.8h0M145.6 449.2h0M166.6 470.9h0M172.8 445.1h0M151.4 440.6h0M167.2 449.5h0M166.8 455.2h0M173.5 438.2h0M150.1 439.5h0M173.5 457.9h0M165 499.9h0M169.9 496.1h0M175.7 448.1h0M161.4 502.8h0M173.2 437.9h0M142 446.5h0M159.7 492.6h0M166.1 463h0M162.4 503.9h0M172.3 467.5h0M174.3 445.1h0M159.9 507.5h0M157.7 505.8h0M152.8 506.2h0M144.7 499.1h0M150.6 501h0M151.7 472.1h0M162.6 468.9h0M149.9 438.1h0M162.9 479.7h0M173.4 453.6h0M166.7 500.5h0M143.8 451.7h0M157.2 505.8h0M157.9 500.8h0M155 481h0M163.3 466.3h0M169.5 480.8h0M172.2 488.3h0M150.6 501.8h0M166.7 449.9h0M148 502.2h0M142.6 476.5h0M155.2 490.9h0M153.1 465.9h0M154.9 497.9h0M158.6 507.7h0M140.4 470h0M148.9 469.2h0M175.6 454.7h0M165.2 442.2h0M169.5 492.9h0M149.3 472.5h0M164.8 486.6h0M159.7 499.3h0M149 483.6h0M165.8 450.5h0M147.5 476.4h0M148.5 467.5h0M155.9 508.5h0M165.5 489.8h0M150 495.7h0M169.2 467.3h0M152.2 502.3h0M144 440.8h0M173.9 449.5h0M171.5 464.9h0M146.9 452.7h0M174.2 462h0M168.9 485.1h0M154.1 500.1h0M162.3 451.3h0M169.9 497.1h0M145.2 474.2h0M156.8 500.3h0M154.7 482.8h0M160.9 451.9h0M151.3 492.7h0M162.6 496.9h0M145.5 464.9h0M153.6 500.6h0M139.6 490.7h0M162.9 458.2h0M169.4 447.2h0M176.6 486.5h0M151.5 496.8h0M143.5 449.4h0M172.7 460.7h0M143.9 440.3h0M143.5 476.1h0M159.4 465.3h0M160.4 506.9h0M139.6 464.8h0M149.3 469.3h0M171 489.7h0M151.1 498.9h0M169.6 443.8h0M159.1 507.8h0M167.4 448.2h0M143.1 451h0M162.1 502.8h0M161.6 497.4h0M162 503.8h0M147.5 447.7h0M142.4 487.6h0M163.3 479.8h0M166.7 500.9h0M146.1 498.7h0M152.8 487.9h0M173.4 478.6h0M168.9 445.4h0M162.3 500.6h0M147.9 501.2h0M176.5 485.7h0M169.4 461.8h0M147.4 483.2h0M153.7 471h0M149.6 446.4h0M162.8 479.6h0M169.6 455.2h0M151.9 475.6h0M156.8 505.8h0M167.2 470.6h0M153.6 507.3h0M151.9 469.5h0M162.3 463.5h0M147.4 480.8h0M143.1 443.1h0M170.8 466.9h0M153.7 473.9h0M143.6 454.8h0M171.6 457.6h0M149 437.2h0M144.1 440.8h0M174.6 475h0M137.2 487.7h0M154.2 467.4h0M147.8 438.5h0M171 471.1h0M169.2 462.1h0M138.5 470.7h0M152.9 484.6h0M160.1 492.1h0M168 484.7h0M149.6 500.2h0M169 475h0M166 501.9h0M146.1 493.3h0M144.2 485.4h0M165.6 481.3h0M150.6 489.5h0M170.7 453.5h0M149.9 445.2h0M144 477.9h0M145.9 457.9h0M148.3 472.1h0M170.9 473.8h0M143.5 448.5h0M165.2 477.7h0M161.6 462.8h0M147.4 461.5h0M171.6 444.1h0M146.4 492.7h0M170.3 446.2h0M142.4 467.7h0M174.1 471.4h0M156.2 508.1h0M142.2 493.3h0M160 477.3h0M153.5 481.6h0M145.7 480.9h0M148 488.1h0M160.4 507h0M162.6 468h0M169.4 441.9h0M168.4 485.3h0M163.3 478.2h0M168 495.4h0M164.1 441h0M150.5 499.1h0M172.1 440.7h0M154.5 478.6h0M174.4 454.2h0M164.2 461.2h0M152.3 457.5h0M167.4 494.9h0M146.1 492.8h0M153.6 488.9h0M175.3 480.8h0M154.8 502.5h0M152.4 501.8h0M161.1 497.5h0M154.9 493h0M142.7 491.7h0M147.5 437.4h0M158 499.3h0M143.2 468.3h0M158.6 501.4h0M151.9 452.5h0M170.4 456h0M174.9 460.6h0M170.5 443.3h0M146.5 444.2h0M170.7 443.1h0M147.8 490h0M144.8 454.1h0M171.1 470h0M160.7 490.6h0M147.3 450.6h0M160.9 451.3h0M152.5 506.2h0M148.5 444.3h0M168.8 491.5h0M168.3 493.6h0M151.3 480.1h0M174.5 488h0M149.3 469.3h0M164.9 496.6h0M158.5 507.8h0M168.6 467.8h0M151.4 472.3h0M143.1 469.2h0M142.1 487.2h0M166.9 478.9h0M169.4 475.1h0M168.6 464.8h0M145.9 448.7h0M170 489.3h0M149 467.8h0M144.2 455.2h0M145.4 487.3h0M145.6 485.6h0M142.7 465.5h0M154.5 474.2h0M157.3 501.6h0M149.7 438.4h0M148.8 438.5h0M154.7 488.7h0M153.1 453.9h0M173.8 452.9h0M162.3 480.5h0M167.6 475.8h0M167.3 472.1h0M162.8 500.1h0M143.9 450h0M148.6 501.8h0M175 471.6h0M149.7 495.5h0M149.6 466.7h0M173.6 491.1h0M161.2 462.9h0M142.4 442.7h0M155.1 494.9h0M165.3 443.1h0M168.7 450.2h0M154 496.5h0M166.9 500.2h0M169.8 453.3h0M155.1 487.2h0M171.7 439.5h0M145.5 477.7h0M149.8 448.8h0M163.9 467.6h0M142.4 493h0M151.9 445.1h0M151.3 463.1h0M145.8 496.8h0M164.6 472.1h0M169.5 464.5h0M143.5 456.5h0M161.4 498.7h0M153 499.4h0M147.9 491.8h0M162.7 462h0M156 498.3h0M152.7 505.4h0M176.5 472.3h0M158.6 471.7h0M155.9 508.6h0M149.7 501.2h0M143.6 496.7h0M162.2 498.3h0M170.7 461.2h0M150.4 462.7h0M145.7 464.9h0M167.3 443.4h0M166.2 501.8h0M144.5 498.8h0M174.2 471.4h0M140.8 459.6h0M170.5 457.8h0M143.2 468.8h0M170.5 493.6h0M150 498.4h0M141.4 451h0M143.4 475h0M158.1 488.7h0M143.2 456.3h0M149.6 438.7h0M150.5 458.7h0M169.3 488.2h0M162.9 502h0M176.7 475.8h0M152.4 459.4h0M168.9 488.7h0M149.9 451.9h0M147.7 475.2h0M148.9 498.6h0M146.9 493.3h0M166 458.9h0M158.4 492.2h0M147.8 456.5h0M165.4 488.2h0M152.1 483.4h0M155.6 500.3h0M151.6 444.9h0M143.9 490.9h0M150.2 440.1h0M161.3 505.7h0M156.5 504.8h0M151.2 503.9h0M170.8 466h0M153.6 492.9h0M151.3 491.5h0M151.1 454.3h0M151.1 503.7h0M156.9 508.5h0M159.1 491.9h0M176.8 487.5h0M148 501h0M143.6 485.1h0M168.8 453h0M153.3 504.3h0M141.8 470.4h0M151.2 490.6h0M169.9 473.8h0M148.1 482h0M149 439.8h0M148.1 464.7h0M160.7 474.9h0M142.5 458.9h0M164.2 481.2h0M149.1 501.8h0M143.3 460.9h0M152.7 455h0M142.7 463.6h0M145.7 463.7h0M160.5 483.3h0M145.9 446.7h0M148.8 480.5h0M150 500.4h0M175.1 478.2h0M144.4 438.6h0M175.4 469.4h0M153.1 470.8h0M166.5 458.3h0M168.3 466.4h0M146.2 458.6h0M162.7 462h0M174.4 478.2h0M143.9 456.7h0M149.9 449.5h0M150.8 445.3h0M144.9 451.2h0M146.4 455.9h0M151.6 505.4h0M160.3 467.3h0M144.6 466.2h0M147.1 464.5h0M168 460.9h0M167.1 454.1h0M171.9 493.4h0M141.5 449.8h0M166.8 445h0M146.7 444.7h0M165.8 453h0M141.7 454.7h0M152.7 458.9h0M171.7 469.7h0M166.2 496.2h0M171.9 468h0M167.1 446.5h0M147.8 440.9h0M164.1 486.8h0M155.6 504.5h0M150.2 458h0M150 497.6h0M168.6 476.2h0M142 449h0M142.3 486.4h0M152.2 477.2h0M150.1 469h0M144.4 498.5h0M151.4 438.7h0M161 483.6h0M146.6 499.2h0M172.8 437.3h0M154.2 505.1h0M145.9 485.2h0M167.7 497.6h0M175.3 478.1h0M152 483.5h0M166.1 472h0M172 492.9h0M164 485.7h0M147.8 492.7h0M142.7 495.1h0M152.1 477.8h0M162.1 476.7h0M141 475.6h0M170.5 459.5h0M146.9 490.4h0M151.2 505.3h0M161.4 494.7h0M158.4 490.8h0M152.3 501h0M161.9 497.5h0M164 457.6h0M147.8 444h0M142 472.8h0M154.3 468h0M148.8 482.7h0M170.1 489.4h0M145.7 439.6h0M161.1 478.4h0M137.2 480.9h0M147.9 458.2h0M144.8 447.2h0M158.6 491.1h0M148.6 446h0M162.1 455h0M149.1 443.5h0M141.3 461.4h0M149.9 438.8h0M164.7 443.2h0M161.8 466.6h0M172.5 477.6h0M149.6 469.1h0M158 501.9h0M165.5 438.3h0M171.3 452.3h0M146 455h0M165.4 498.1h0M148.9 481.3h0M171.9 493.6h0M172.1 488.8h0M154.8 506.7h0M153.6 498.8h0M163.2 483.3h0M162.3 492.8h0M144.5 442.8h0M161.6 503.8h0M172.2 486.3h0M162.2 467.9h0M162.4 477.3h0M142.8 473h0M169.1 465.4h0M164.3 447.1h0M137.4 478.3h0M172.1 439.6h0M160.7 483.8h0M142 451.1h0M160.5 501.3h0M165.5 473.5h0M146.4 501.2h0M164.8 476.4h0M148.1 439.2h0M156 498.3h0M147.3 465.2h0M144.4 448h0M142.8 455.6h0M164.6 496.5h0M167 438.4h0M171 488.8h0M146.6 498.3h0M153.9 503.9h0M146.2 484.6h0M147.4 454.9h0M149.1 452.7h0M144.8 461.9h0M157.8 506.7h0M163.7 441.6h0M144 455.7h0M166.9 497.7h0M168.8 488h0M171.6 441.5h0M155.9 500.6h0M171.6 489.6h0M158.6 504.2h0M162.1 471h0M146.2 439.2h0M155.7 508.1h0M176.7 477.9h0M144.5 443.7h0M153.8 506.6h0M155.4 508.3h0M145.2 476.1h0M151.6 467.8h0M169.8 484.2h0M170.1 460.2h0M156 508.2h0M169.5 439h0M152.6 506.3h0M165.2 478h0M154.9 495.1h0M140.2 468.1h0M151.3 500.2h0M150.8 450.4h0M150.6 442.9h0M152 501.4h0M166.4 444.9h0M150 443.7h0M151.3 471.2h0M153.3 473.3h0M140.6 464.6h0M162.9 441.2h0M152.3 478.2h0M145.5 459.8h0M154.2 480.9h0M169.2 492.1h0M142.4 458.4h0M165.5 442.9h0M146.2 446.7h0M161.9 461.7h0M160.1 501.4h0M161.1 490.5h0M151.2 457.9h0M150.1 465.4h0M141 491.5h0M128.8 448.7h0M132.6 445.8h0M123.8 445.5h0M125.6 441.1h0M137.5 447.7h0M138.5 462.1h0M130.6 463.3h0M135.4 482.3h0M141 445.2h0M142.2 441.8h0M131.6 464.5h0M131.1 440.3h0M131.1 467.7h0M137.2 461.1h0M132.1 444.7h0M134.2 466.7h0M135.5 458.5h0M128.2 449.8h0M138.5 461.9h0M132.7 450.3h0M128.7 455.9h0M132.5 476h0M127 442.8h0M137.8 447.2h0M131.4 456.9h0M142 439.8h0M132.6 458.4h0M140.1 453.6h0M137.6 471h0M132.6 441.2h0M137 464.9h0M128.6 445.8h0M131.1 439.1h0M127.6 452.5h0M135.8 437.9h0M138.9 447.7h0M134.3 477h0M135.5 466.3h0M130.2 449.8h0M134.8 482.4h0M136.3 453h0M124.5 441.2h0M142.7 439.4h0M139.9 444.9h0M126.9 443.9h0M129.8 439.7h0M136.2 459.9h0M134.8 463h0M125.4 449.5h0M129.5 462.1h0M137.9 444.3h0M136.7 451.7h0M135.5 456.6h0M125.2 452h0M133.6 451.4h0M128.8 441.5h0M133.5 444.5h0M125.6 444.7h0M133.5 461.2h0M138.1 465.7h0M132.4 459.5h0M132 453.6h0M131.5 449.5h0M130 463.1h0M139.1 448h0M137.7 473.7h0M135.5 438.4h0M139.5 458.7h0M139.7 448.9h0M130.3 451h0M131 440.9h0M131.5 452.2h0M131.5 450.4h0M128.8 448.8h0M134.7 444.4h0M141.5 437.5h0M142.2 439.6h0M129.7 462.2h0M131.1 448.5h0M137.4 473.9h0M135.6 485.4h0M131.6 445h0M135 447.3h0M134.7 454.7h0M135.2 452.4h0M130.2 456.6h0M138.7 455.7h0M141.2 446.3h0M138.8 458h0M138.7 451.1h0M130.4 465.5h0M134.9 447h0M135.8 454.8h0M129.2 455.8h0M127.4 453.4h0M132 459.9h0M131.2 438.4h0M135 456h0M139.8 446.1h0M129.6 449.2h0M177.3 465.9h0M176.9 445.1h0M179.5 443.4h0M179.5 473.7h0M177.9 438h0M176.5 445.7h0M176.7 449.1h0M185.1 443.8h0M181.1 443.8h0M182.5 460h0M177.9 482.6h0M177.4 483h0M186.9 438.5h0M177.3 437.7h0M181.8 459.3h0M187.4 449.6h0M184.5 439.7h0M176.6 451.8h0M187 451.8h0M183.3 467.6h0M179.4 447.1h0M188.6 443.3h0M181.7 450.5h0M178.6 473.5h0M180.5 459.4h0M180.3 443.2h0M185.6 439.7h0M179.2 479.7h0M181.1 471.4h0M178.1 478h0M181.6 449.5h0M184.1 464.7h0M184.4 437.4h0M182.8 453.8h0M182.5 446.8h0M180.5 469.7h0M184 441.9h0M185.2 444h0M177.2 440.9h0M185.1 454.7h0M189.8 440.6h0M182.1 469.5h0M180.7 448.4h0M180.6 450.8h0M179.1 472h0M188.5 450.4h0M183 454.7h0M178.8 463.7h0M180.8 467.9h0M177.2 484.8h0M185.4 451h0M177.2 451.1h0M182.8 450.1h0M183.3 448.9h0M177.8 475.7h0M180.6 441.8h0M179.1 479.4h0M179.7 443.9h0M187.7 444h0M188.8 443.2h0M178.1 462.6h0M180.6 456.4h0M181.7 440.1h0M192 439.6h0M176.3 439.2h0M176.7 446.7h0M178.7 446.3h0M179.4 480.9h0M178 473.7h0M179.4 478.2h0M179.4 443.6h0M177.2 461.3h0M253.1 452.8h0M233.4 459.2h0M225.1 461.9h0M230.3 468.3h0M215.5 465.5h0M201.1 491.6h0M189.6 494.2h0M189.3 493.9h0M201.5 491.5h0M169.6 502.1h0M214.6 465.3h0M199.1 459.5h0M198.3 465.3h0M194.2 475.1h0M188.5 478.4h0M185.2 487.4h0M181.1 488.2h0M99.2 463.6h0M112.2 444.7h0M114.6 446h0M117 446.5h0M119 445.7h0M113.5 443.4h0M117.5 448.3h0M120.4 451.5h0M123.5 464h0M126.5 470.5h0M128 478.5h0M127.5 483.5h0" stroke="#000" stroke-width="2.9" stroke-linecap="round" fill="none"/>
<path d="M145.9 433.2h0M136.8 428.7h0M146.5 404.1h0M143.1 407.2h0M144.4 401.1h0M141.4 436.7h0M149.9 435.3h0M145.7 435.4h0M138.2 422.8h0M143.9 431.5h0M138.6 431.6h0M144.4 427.3h0M142.3 418.9h0M140.4 369.5h0M144.8 406.3h0M139.5 416.7h0M138.6 386.6h0M138.8 359.9h0M135.4 431.9h0M147.7 422.9h0M141.6 422.7h0M144 373.3h0M140.5 417.7h0M147.4 434.3h0M148.1 428.5h0M149.5 432.2h0M148.8 436.9h0M138.9 426.3h0M147.3 431.5h0M141.1 432.4h0M147 425h0M149.4 432.9h0M148.3 436.8h0M139.9 423.7h0M139.1 425.6h0M143.1 409.7h0M150.1 435.1h0M146.2 405.8h0M143.5 394.5h0M149.8 436.7h0M145.6 388.6h0M142.4 429.2h0M136.6 431.9h0M148.3 433.9h0M149.1 432.4h0M147.3 390.7h0M148.5 424.1h0M133.4 386.5h0M146.9 425.1h0M132.9 421.7h0M140.5 364.1h0M133.5 427.1h0M147.5 416.2h0M144.3 431.5h0M143.5 422.4h0M138.2 436.6h0M144.8 420.1h0M145.3 401.7h0M147.1 433.9h0M135.9 427.8h0M145.6 386.8h0M146.6 417h0M144.6 400.9h0M150.9 425.4h0M137.8 437h0M139.7 435.7h0M147.4 426.5h0M148.8 429.4h0M139.4 404.6h0M145.6 417.3h0M143.6 426.9h0M142.8 366.3h0M137.8 428.5h0M141.6 426.9h0M134.4 390.2h0M141.7 428.8h0M139.2 431h0M148.8 436.3h0M139.3 405.5h0M143 417.8h0M139.7 429h0M148.1 424.8h0M142.6 405.1h0M148.2 425.7h0M147.3 421.5h0M147.2 436.3h0M148.3 423.5h0M149.4 431.8h0M144.1 424.3h0M144.4 429.1h0M149.6 427.7h0M146.8 424.2h0M139.1 403.6h0M143.6 408.2h0M146.6 402.7h0M148.1 415.1h0M139.4 418.3h0M133 418.9h0M142.5 432.2h0M149.9 431.8h0M150.2 431.2h0M141.9 435h0M142.1 426.9h0M135.3 426.3h0M146.7 434.9h0M149.2 426.6h0M147.3 402.5h0M142.7 434.6h0M140.4 410.2h0M136.8 413.5h0M144.6 387.7h0M136.6 412.7h0M142.8 405.9h0M146.7 386.3h0M142.5 353.9h0M149.9 435.2h0M147.4 419h0M142.1 417.8h0M149.4 424h0M135.7 422.5h0M147.1 436.8h0M137.5 419h0M151.2 437.2h0M144.8 388.5h0M133.8 402.7h0M147.5 433.5h0M146.1 430.7h0M148.6 429.5h0M150.4 424.8h0M144.1 422.5h0M147.1 419.5h0M147.1 418.5h0M138.5 420.4h0M143.7 397.3h0M148.7 430.5h0M144.9 418.9h0M149.8 435.4h0M145.1 432.7h0M131.7 430.4h0M149.3 431.7h0M139.2 400.1h0M148.3 423.8h0M148.3 427.5h0M148 433.1h0M142.4 397.2h0M142.5 395.6h0M142.3 416.5h0M148.7 431.4h0M144.3 432.9h0M146.4 423.2h0M140.1 372.1h0M137.2 367.1h0M141.4 397.9h0M147.8 412.3h0M143.5 413.1h0M140.4 431.1h0M135.7 414.1h0M144.9 371h0M147.8 412.3h0M148.4 437.2h0M142.9 427.1h0M145.3 431.3h0M146.3 434.9h0M141.5 432.1h0M146.9 427.4h0M151 435.4h0M144.3 411h0M144.6 408h0M141.2 383.9h0M145.7 393.1h0M137.4 413.4h0M139.4 396.1h0M142.9 378.5h0M150.7 434.6h0M138 359.1h0M142 418.9h0M144.9 403.5h0M143.3 385.7h0M134.5 423.2h0M141.3 410h0M149.3 436.1h0M146.7 394.6h0M148.1 414.8h0M144.9 432.3h0M145.1 419.2h0M146.6 430.5h0M148.2 424.3h0M145.9 435h0M148.7 424.1h0M146.4 388.7h0M141.2 375.3h0M149.3 434.1h0M144.6 406.1h0M141.2 420.3h0M148.6 419.7h0M147.1 411.6h0M145.7 404.2h0M142.3 418.6h0M141.5 360h0M149.3 433.2h0M137.8 434.8h0M145.2 405.1h0M147.1 437.1h0M144.4 414.6h0M148 429.4h0M148.9 424.2h0M148.1 411.9h0M141.9 432.7h0M144.5 437h0M144.3 421.2h0M148 420.7h0M148.1 416.5h0M142.5 428.8h0M138.1 396.1h0M142 390.8h0M139.3 409.3h0M143.4 359.7h0M145.2 388.3h0M149.3 431.2h0M140.5 373.7h0M144.9 413.4h0M146 427.4h0M146.9 431.5h0M140.4 406.8h0M146.5 429.9h0M144.3 429.3h0M141.7 420h0M150.4 431.8h0M148.4 427.1h0M146.2 430h0M148.2 414.3h0M149 411.3h0M150.7 430.2h0M147.8 407h0M145.9 420.2h0M147.5 431.5h0M150.4 435.4h0M140.1 399.1h0M146.9 416h0M148.5 434.3h0M136.2 422.2h0M147.5 425.3h0M149.1 432.2h0M145.4 432.1h0M138.9 431.9h0M140.6 403.6h0M136 364.5h0M140.6 421.9h0M150.3 430.7h0M147.3 436h0M147.8 429.4h0M147.1 414.9h0M133.6 417.3h0M144.7 412.6h0M144.7 410.3h0M148.3 418.9h0M146.8 432.4h0M148.7 426.9h0M149.1 424.1h0M148.4 435.1h0M147.2 424.7h0M145.7 432h0M147.3 430.7h0M146.3 434.7h0M148.4 421.1h0M146.5 403.2h0M146 419.3h0M140.6 436.9h0M145.5 420h0M142.3 419.5h0M143 412.8h0M145.8 405.9h0M145.4 435.1h0M149.4 433.3h0M141.2 399h0M144.2 416.2h0M143.2 413.7h0M146.9 421.3h0M144.2 427.9h0M149 423.1h0M144.3 403.1h0M149.5 420.4h0M138.9 383.2h0M142.7 399.6h0M144 431.3h0M148.5 435h0M143.2 403h0M140.1 408.2h0M146.7 426.9h0M135.7 419.7h0M133.4 372.4h0M146.4 432.3h0M141.2 393.6h0M142.3 428h0M140.6 396.5h0M137.5 384.1h0M141 431.7h0M140.9 408.7h0M143 409.4h0M144 437h0M149.4 434.2h0M145.5 436.2h0M137.9 427.7h0M149 434.2h0M149.5 427.8h0M147.7 399.4h0M138.3 417.7h0M148.3 436h0M147.2 403.5h0M146.2 433h0M141.5 381.3h0M142 420.4h0M149.3 415.6h0M149.8 437.1h0M150 436.7h0M144.1 392.7h0M145 390h0M141.5 383.3h0M148.6 429.5h0M142.3 432.6h0M144.7 403.9h0M141.5 421.3h0M140.2 382.8h0M147.4 424.5h0M143.9 427.3h0M136.6 425.2h0M148.1 436.4h0M143.5 406.4h0M140.8 411.1h0M149.1 430.9h0M142.8 416.2h0M139.5 409.3h0M144.2 422.5h0M142.9 415.7h0M138 387.8h0M148.3 428.2h0M143.1 426.7h0M147.7 416.5h0M145.2 422.4h0M149.5 419.5h0M147.9 394.2h0M147.3 401.8h0M143.7 422.6h0M136.3 410.3h0M134.2 416.3h0M146.5 430.1h0M147.1 419.6h0M143.7 398.6h0M141.7 406.4h0M144.3 388.8h0M141.7 356.9h0M134.3 355.5h0M135.4 353.7h0M138.5 352.2h0M140.6 353.9h0M142.5 353.6h0M135.3 356.3h0M142.1 360.7h0M138.6 357.2h0M133.1 359.6h0M132.4 353h0M138.3 355.4h0M139.7 357.4h0M132.6 357.6h0M132.5 359.1h0M138.5 353.4h0M142.7 359.4h0M141.3 357.9h0M133.5 351.8h0M141.1 351.2h0M140.8 358.1h0M144 356.1h0M169 433.3h0M167.3 422h0M168.5 426.1h0M164.5 434.7h0M164.5 419.8h0M176.1 412.3h0M166.6 418.7h0M164.1 436.5h0M165.1 430.3h0M170.9 369.7h0M169.5 431h0M163.6 430h0M170.3 429.6h0M169.8 423.4h0M180.3 418h0M167.5 366.5h0M163.8 425.6h0M164.8 408.9h0M165.6 426.5h0M166 420h0M166.1 428.6h0M168.6 409.2h0M168 429.4h0M176.9 427.5h0M175.7 402h0M174.6 425.6h0M167.6 414h0M176.2 434.1h0M167.2 435.1h0M166.9 384.4h0M168.5 427.6h0M164.6 434.8h0M166.6 412.1h0M167.6 382.5h0M170.6 380.2h0M167.3 426.6h0M169.1 386.2h0M171.9 380.6h0M167.8 414.2h0M168 425.1h0M166.9 434h0M163.1 425.5h0M166.4 400.8h0M165.8 424.4h0M167.3 395.9h0M174.1 436.9h0M169 430.8h0M172.6 392.7h0M167.4 401.5h0M169 434.5h0M164.1 421.2h0M167.9 395.7h0M174.4 397.9h0M167.3 437h0M166.3 398.9h0M167.6 435.6h0M178.2 431.4h0M169.2 422.8h0M166.7 422h0M165.9 434h0M171.5 416.8h0M166.7 421.6h0M169.1 418.8h0M173.8 436h0M167.2 401.1h0M167.9 397.8h0M167.2 411.9h0M163.7 418.8h0M163 436.8h0M178.7 437.1h0M175.8 380.1h0M165.9 435.2h0M166.1 425.4h0M176.4 432.7h0M169.6 399.3h0M165.8 423.7h0M169.7 427.1h0M166.5 436.7h0M165.4 427.8h0M170.1 420.8h0M173.8 413.5h0M163 434.1h0M166.8 392.7h0M173.3 407h0M168 430.4h0M167.5 421.9h0M172.7 411.6h0M165.9 421.4h0M170.3 432.3h0M171.7 413.1h0M171.6 407.1h0M173.3 422.8h0M163.4 424.4h0M164.7 436.7h0M169 436.8h0M168.8 421.8h0M166.5 421.6h0M165.6 404.6h0M167.8 428.9h0M174.2 421.6h0M162.7 435h0M173.7 423.7h0M162 428.6h0M167.1 409.6h0M169 374.2h0M174.3 419.8h0M173.3 361.1h0M165.4 436.9h0M165.6 396.6h0M169.4 429.9h0M165.6 406.6h0M164 428.9h0M165.8 420.1h0M163.1 431.3h0M168.2 424.3h0M166.3 420.4h0M167.9 430.4h0M171 430.5h0M166.5 436h0M167.9 402.8h0M174.8 423.9h0M166.5 411.5h0M164.2 431h0M171 407.3h0M163.4 426.8h0M167.2 433.5h0M166.5 392h0M165.6 405.2h0M170.7 419.4h0M163.2 432.4h0M164.4 433.1h0M165.4 435.5h0M173.3 421.9h0M165.4 428.4h0M170 428.8h0M178.5 379.9h0M163 435h0M168.8 396.9h0M171.2 405.2h0M175.5 421.8h0M170.4 408.6h0M164.8 411.7h0M169 409.3h0M166.1 433.3h0M165.8 416.8h0M169.5 427.2h0M166.2 423.1h0M176.9 360.3h0M176.5 433.5h0M165.4 423.7h0M165.9 423.5h0M166.4 428.1h0M163.5 433h0M168.2 411.9h0M168 429.3h0M166.5 414.2h0M175.4 377.5h0M162.3 436.9h0M165.2 418.1h0M166.7 428.1h0M169.4 428.6h0M166.9 421.2h0M167.6 416h0M175 368.1h0M170.1 429.2h0M167.9 433.8h0M169.7 429.4h0M164.9 399.3h0M163.8 433.8h0M168 382.4h0M179.3 429.3h0M166.3 436.9h0M164.3 434.8h0M168.1 416.2h0M168.6 418.7h0M165.4 420.7h0M173.1 429.5h0M169.7 427.9h0M172.1 382.1h0M163.8 431.9h0M163.5 435.3h0M167.5 427.4h0M172.8 418.5h0M167.5 434.1h0M165.3 431.4h0M172.3 432.2h0M169.9 425.7h0M166.1 430.4h0M175.2 375h0M171.6 434h0M173.8 411.5h0M171.2 420.8h0M179 386.4h0M169.7 378.1h0M164.2 427.9h0M173.7 429.3h0M163.4 427.1h0M164.9 426h0M167.6 411.5h0M176.1 428.4h0M178.9 413.4h0M174.5 407.4h0M175.8 380.8h0M165.1 429.6h0M168.9 426.9h0M166.1 411.6h0M163.2 426.4h0M173.1 420.7h0M167.1 399.4h0M172.3 437.1h0M173.7 394.9h0M175.9 430.8h0M166.6 426.7h0M166.9 422.9h0M176.9 436.5h0M165.1 435.8h0M167.1 411.9h0M165.3 409h0M165.8 424.5h0M165.6 425.6h0M170.1 353.2h0M165.5 423.5h0M166.8 422.8h0M174.9 426.2h0M169.8 437h0M176.4 434h0M164.5 425.9h0M166.2 401.8h0M171.8 428.1h0M173.7 437.1h0M169.4 428h0M164.6 428.3h0M163.9 435.8h0M167.2 424.4h0M166.3 409.6h0M167 397.9h0M164.8 409.5h0M168.5 419.8h0M165.4 403h0M168.8 394.4h0M165 429.6h0M171.1 430.1h0M169.4 423.5h0M167.3 397.4h0M167.4 436h0M166.9 417.7h0M167 430h0M170.8 417.8h0M173.9 428.5h0M174.7 426.8h0M166.3 427h0M177.6 414.7h0M168.3 430h0M164.4 427.5h0M166.5 401.5h0M167.3 425.1h0M169.1 410.6h0M164.2 435.5h0M167.1 406.2h0M178.9 418.9h0M164.8 410.5h0M179.8 415.8h0M166.3 392.7h0M178.7 431.6h0M167 421.3h0M170.1 393.4h0M165.2 432.4h0M165.7 428.3h0M166.8 422.5h0M167.5 380.3h0M177.9 409h0M170.6 415.4h0M168.5 410.1h0M167.9 392.2h0M166.6 424.1h0M164.8 436.1h0M164.8 427h0M172.2 423.9h0M177.3 394.5h0M168.3 392.8h0M165.2 427.2h0M172.1 426.1h0M163.3 434.6h0M168.5 419.3h0M174.1 436.3h0M172.2 398.6h0M176.4 358.6h0M170.4 429.3h0M168.6 422.9h0M164.2 423.4h0M167.6 422h0M165 432.9h0M167.3 402h0M165.4 436.7h0M180.2 409.8h0M175.3 432.7h0M170.1 421.4h0M167.3 434.4h0M167.4 423.5h0M165.5 428.2h0M173.1 402.3h0M171.4 411.2h0M167.3 388.4h0M177 387.7h0M166.2 432.4h0M168.8 433.7h0M172.2 434.7h0M164.6 426.9h0M171.7 397.3h0M175.6 426.8h0M170.5 356.4h0M171 353.6h0M174.5 356.2h0M170.1 355.4h0M171.5 354.7h0M171.3 351.8h0M170.8 352.7h0M173.9 358h0M134.8 339.5h0M179.9 305.8h0M181.8 305.2h0" stroke="#ff0000" stroke-width="2.9" stroke-linecap="round" fill="none"/>
<path d="M124.5 352.4h0M128.8 352.4h0M125.9 356.9h0M120 365.7h0M127.3 363.3h0M128.8 365.3h0M127.8 368.6h0M127.3 373.1h0M124.9 381.4h0M124.9 391.2h0M125.5 413.7h0M128.8 418h0M121.4 421.6h0M125.5 422.2h0M123.3 433.3h0M129.4 434.7h0M184.1 305.1h0M186.7 332.6h0M192.3 354.5h0M185.8 357h0M188.4 362h0M187.4 365.2h0M191.3 381.2h0M193 402h0M185.8 408.7h0M190.2 410h0M194.8 417.4h0M187 418h0M194.4 404h0M183.6 420.5h0M190.2 430.5h0M194.8 430.5h0" stroke="#0ce60c" stroke-width="2.9" stroke-linecap="round" fill="none"/>
<path d="M217.5 305.1h0M194.6 353.7h0M200.6 353.7h0M207.8 352.3h0M225.8 354.2h0M233.2 354.2h0M230.8 357.8h0M267.3 354.7h0M245.7 363.3h0M198.2 366.2h0M203.3 366.6h0M189.9 373.3h0M203.3 378.9h0M224.1 378.6h0M229.4 377.7h0M202.1 384.1h0M215.7 384.6h0M203.8 388.9h0M234.9 400.8h0M205 404.4h0M238 407.3h0M197.8 417.4h0M207.2 418.5h0M211.8 417.8h0M209.2 421.7h0M204.6 425.7h0M204.3 436.4h0M185.7 429.2h0M105.7 365.3h0M118.4 402h0M111.2 413.7h0M117.1 417.1h0M130.4 426.5h0M114.1 432.7h0M116.1 436.3h0" stroke="#0a0af5" stroke-width="2.9" stroke-linecap="round" fill="none"/>
<path d="M199 345.2L200.6 352.5M224.2 342.2L225.8 353M202.6 384.3L207.4 387.4M213.1 417.8L217 417.8M209.8 422L219.3 424.6M185 428.3L222 428.8M185.7 429.8L197.4 438.3" stroke="#111" stroke-width="0.7" fill="none"/>
<g font-size="5.65" stroke-width="0.2">
<text x="191.3" y="345" fill="#111" stroke="#111">Acss3</text>
<text x="201.8" y="349.1" fill="#111" stroke="#111">Phyhd1</text>
<text x="214.1" y="341.9" fill="#1a1aff" stroke="#1a1aff">Wfikkn2</text>
<text x="236.1" y="354.6" fill="#111" stroke="#111">Itgad</text>
<text x="181" y="352" fill="#1a1aff" stroke="#1a1aff">Fbln5</text>
<text x="191.3" y="361.8" fill="#111" stroke="#111">Arhgef37</text>
<text x="205" y="368.7" fill="#111" stroke="#111">A730020M07Rik</text>
<text x="192.3" y="375" fill="#1a1aff" stroke="#1a1aff">Col5a3</text>
<text x="206.2" y="381" fill="#111" stroke="#111">Hr</text>
<text x="231.8" y="379.5" fill="#111" stroke="#111">Pla2g3</text>
<text x="209" y="390.3" fill="#111" stroke="#111">Stab2</text>
<text x="197.8" y="401.7" fill="#111" stroke="#111">Ctla2a</text>
<text x="236.8" y="402.9" fill="#111" stroke="#111">5330429C05Rik</text>
<text x="207.8" y="408.4" fill="#111" stroke="#111">Gabrr2</text>
<text x="240.9" y="409.4" fill="#111" stroke="#111">Hsf3</text>
<text x="193.9" y="415.6" fill="#111" stroke="#111">Sds</text>
<text x="205.3" y="413.9" fill="#111" stroke="#111">Tmem82</text>
<text x="217.4" y="419.9" fill="#111" stroke="#111">Map3k6</text>
<text x="219.6" y="426.7" fill="#111" stroke="#111">Cd300lf</text>
<text x="183.8" y="426.4" fill="#1a1aff" stroke="#1a1aff">Pglyrp1</text>
<text x="222.3" y="431.7" fill="#1a1aff" stroke="#1a1aff">Rtbdn</text>
<text x="197" y="433.2" fill="#111" stroke="#111">Myh1</text>
<text x="205.9" y="438.5" fill="#111" stroke="#111">Klrg2</text>
<text x="197.4" y="442.4" fill="#1a1aff" stroke="#1a1aff">Agrp</text>
<text x="81.8" y="367.4" fill="#111" stroke="#111">Slc38a5</text>
<text x="102.7" y="403.7" fill="#111" stroke="#111">Uhrf1</text>
<text x="89" y="414.8" fill="#111" stroke="#111">Pcdh12</text>
<text x="101.4" y="420.7" fill="#111" stroke="#111">Aplnr</text>
<text x="117.6" y="429" fill="#1a1aff" stroke="#1a1aff">Lipg</text>
<text x="96.9" y="433.9" fill="#111" stroke="#111">Gkn3</text>
<text x="91.6" y="438.4" fill="#111" stroke="#111">Ankrd63</text>
</g>
</g>
</svg></body></html>
